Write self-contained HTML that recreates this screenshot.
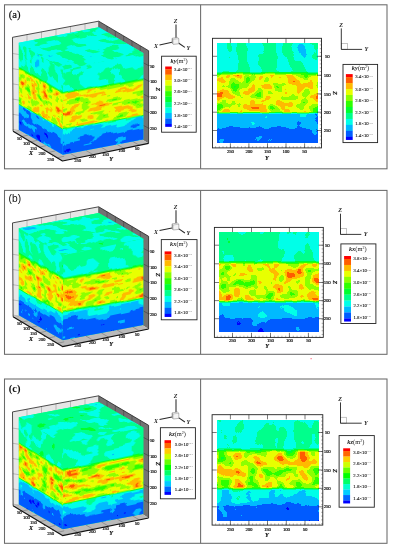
<!DOCTYPE html><html><head><meta charset="utf-8"><title>Permeability fields</title><style>html,body{margin:0;padding:0;background:#fff}svg{display:block}text{font-family:'Liberation Serif','DejaVu Serif',serif}</style></head><body><svg width="394" height="550" viewBox="0 0 394 550"><defs><linearGradient id="gTa" x1="0" y1="0" x2="0" y2="1"><stop offset="0" stop-color="rgb(82,18,69)"/><stop offset="1" stop-color="rgb(82,18,69)"/></linearGradient><linearGradient id="gLa" x1="0" y1="0" x2="0.028" y2="1"><stop offset="0" stop-color="rgb(81,18,69)"/><stop offset="0.28" stop-color="rgb(81,18,69)"/><stop offset="0.32" stop-color="rgb(180,143,31)"/><stop offset="0.69" stop-color="rgb(180,143,31)"/><stop offset="0.71" stop-color="rgb(55,31,38)"/><stop offset="0.78" stop-color="rgb(51,31,38)"/><stop offset="0.83" stop-color="rgb(34,51,26)"/><stop offset="1" stop-color="rgb(33,51,26)"/></linearGradient><linearGradient id="gRa" x1="0" y1="0" x2="-0.045" y2="1"><stop offset="0" stop-color="rgb(82,18,69)"/><stop offset="0.26" stop-color="rgb(82,18,69)"/><stop offset="0.29" stop-color="rgb(180,143,31)"/><stop offset="0.67" stop-color="rgb(180,143,31)"/><stop offset="0.69" stop-color="rgb(68,64,51)"/><stop offset="0.78" stop-color="rgb(53,64,51)"/><stop offset="0.85" stop-color="rgb(34,38,26)"/><stop offset="1" stop-color="rgb(32,38,26)"/></linearGradient><linearGradient id="gSa" x1="0" y1="0" x2="0" y2="1"><stop offset="0" stop-color="rgb(81,20,69)"/><stop offset="0.28" stop-color="rgb(81,20,69)"/><stop offset="0.32" stop-color="rgb(180,153,26)"/><stop offset="0.69" stop-color="rgb(180,153,26)"/><stop offset="0.71" stop-color="rgb(55,38,38)"/><stop offset="0.83" stop-color="rgb(51,38,38)"/><stop offset="0.87" stop-color="rgb(34,38,26)"/><stop offset="1" stop-color="rgb(32,38,26)"/></linearGradient><filter id="fTa" x="0" y="0" width="1" height="1" color-interpolation-filters="sRGB"><feTurbulence type="fractalNoise" baseFrequency="0.08 0.08" numOctaves="2" seed="5" result="n"/><feColorMatrix in="n" type="matrix" values="1 0 0 0 0 1 0 0 0 0 1 0 0 0 0 0 0 0 0 1" result="ng"/><feTurbulence type="fractalNoise" baseFrequency="0.05 0.05" numOctaves="2" seed="45" result="m"/><feColorMatrix in="m" type="matrix" values="1 0 0 0 0 1 0 0 0 0 1 0 0 0 0 0 0 0 0 1" result="mg"/><feColorMatrix in="SourceGraphic" type="matrix" values="1 0 0 0 0 1 0 0 0 0 1 0 0 0 0 0 0 0 0 1" result="base"/><feColorMatrix in="SourceGraphic" type="matrix" values="0 1 0 0 0 0 1 0 0 0 0 1 0 0 0 0 0 0 0 1" result="amp"/><feColorMatrix in="SourceGraphic" type="matrix" values="0 0 1 0 0 0 0 1 0 0 0 0 1 0 0 0 0 0 0 1" result="amp2"/><feComposite in="amp" in2="ng" operator="arithmetic" k1="1" k2="-0.5" k3="0" k4="0.5" result="t"/><feComposite in="amp2" in2="mg" operator="arithmetic" k1="1" k2="-0.5" k3="0" k4="0.5" result="t2"/><feComposite in="t" in2="t2" operator="arithmetic" k1="0" k2="1" k3="1" k4="-0.5" result="tt"/><feComposite in="base" in2="tt" operator="arithmetic" k1="0" k2="1" k3="1" k4="-0.5" result="v"/><feComponentTransfer in="v"><feFuncR type="discrete" tableValues="0 0 0 0 0 0 0.18 0.55 0.91 1 1 1"/><feFuncG type="discrete" tableValues="0 0.36 0.73 1 1 1 1 1 1 0.73 0.36 0"/><feFuncB type="discrete" tableValues="1 1 1 0.91 0.55 0.18 0 0 0 0 0 0"/></feComponentTransfer><feGaussianBlur stdDeviation="0.55"/></filter><filter id="fLa" x="0" y="0" width="1" height="1" color-interpolation-filters="sRGB"><feTurbulence type="fractalNoise" baseFrequency="0.075 0.13" numOctaves="2" seed="6" result="n"/><feColorMatrix in="n" type="matrix" values="1 0 0 0 0 1 0 0 0 0 1 0 0 0 0 0 0 0 0 1" result="ng"/><feTurbulence type="fractalNoise" baseFrequency="0.06 0.05" numOctaves="2" seed="46" result="m"/><feColorMatrix in="m" type="matrix" values="1 0 0 0 0 1 0 0 0 0 1 0 0 0 0 0 0 0 0 1" result="mg"/><feColorMatrix in="SourceGraphic" type="matrix" values="1 0 0 0 0 1 0 0 0 0 1 0 0 0 0 0 0 0 0 1" result="base"/><feColorMatrix in="SourceGraphic" type="matrix" values="0 1 0 0 0 0 1 0 0 0 0 1 0 0 0 0 0 0 0 1" result="amp"/><feColorMatrix in="SourceGraphic" type="matrix" values="0 0 1 0 0 0 0 1 0 0 0 0 1 0 0 0 0 0 0 1" result="amp2"/><feComposite in="amp" in2="ng" operator="arithmetic" k1="1" k2="-0.5" k3="0" k4="0.5" result="t"/><feComposite in="amp2" in2="mg" operator="arithmetic" k1="1" k2="-0.5" k3="0" k4="0.5" result="t2"/><feComposite in="t" in2="t2" operator="arithmetic" k1="0" k2="1" k3="1" k4="-0.5" result="tt"/><feComposite in="base" in2="tt" operator="arithmetic" k1="0" k2="1" k3="1" k4="-0.5" result="v"/><feComponentTransfer in="v"><feFuncR type="discrete" tableValues="0 0 0 0 0 0 0.18 0.55 0.91 1 1 1"/><feFuncG type="discrete" tableValues="0 0.36 0.73 1 1 1 1 1 1 0.73 0.36 0"/><feFuncB type="discrete" tableValues="1 1 1 0.91 0.55 0.18 0 0 0 0 0 0"/></feComponentTransfer><feGaussianBlur stdDeviation="0.55"/></filter><filter id="fRa" x="0" y="0" width="1" height="1" color-interpolation-filters="sRGB"><feTurbulence type="fractalNoise" baseFrequency="0.05 0.14" numOctaves="2" seed="7" result="n"/><feColorMatrix in="n" type="matrix" values="1 0 0 0 0 1 0 0 0 0 1 0 0 0 0 0 0 0 0 1" result="ng"/><feTurbulence type="fractalNoise" baseFrequency="0.045 0.06" numOctaves="2" seed="47" result="m"/><feColorMatrix in="m" type="matrix" values="1 0 0 0 0 1 0 0 0 0 1 0 0 0 0 0 0 0 0 1" result="mg"/><feColorMatrix in="SourceGraphic" type="matrix" values="1 0 0 0 0 1 0 0 0 0 1 0 0 0 0 0 0 0 0 1" result="base"/><feColorMatrix in="SourceGraphic" type="matrix" values="0 1 0 0 0 0 1 0 0 0 0 1 0 0 0 0 0 0 0 1" result="amp"/><feColorMatrix in="SourceGraphic" type="matrix" values="0 0 1 0 0 0 0 1 0 0 0 0 1 0 0 0 0 0 0 1" result="amp2"/><feComposite in="amp" in2="ng" operator="arithmetic" k1="1" k2="-0.5" k3="0" k4="0.5" result="t"/><feComposite in="amp2" in2="mg" operator="arithmetic" k1="1" k2="-0.5" k3="0" k4="0.5" result="t2"/><feComposite in="t" in2="t2" operator="arithmetic" k1="0" k2="1" k3="1" k4="-0.5" result="tt"/><feComposite in="base" in2="tt" operator="arithmetic" k1="0" k2="1" k3="1" k4="-0.5" result="v"/><feComponentTransfer in="v"><feFuncR type="discrete" tableValues="0 0 0 0 0 0 0.18 0.55 0.91 1 1 1"/><feFuncG type="discrete" tableValues="0 0.36 0.73 1 1 1 1 1 1 0.73 0.36 0"/><feFuncB type="discrete" tableValues="1 1 1 0.91 0.55 0.18 0 0 0 0 0 0"/></feComponentTransfer><feGaussianBlur stdDeviation="0.55"/></filter><filter id="fSa" x="0" y="0" width="1" height="1" color-interpolation-filters="sRGB"><feTurbulence type="fractalNoise" baseFrequency="0.075 0.085" numOctaves="2" seed="8" result="n"/><feColorMatrix in="n" type="matrix" values="1 0 0 0 0 1 0 0 0 0 1 0 0 0 0 0 0 0 0 1" result="ng"/><feTurbulence type="fractalNoise" baseFrequency="0.065 0.03" numOctaves="2" seed="48" result="m"/><feColorMatrix in="m" type="matrix" values="1 0 0 0 0 1 0 0 0 0 1 0 0 0 0 0 0 0 0 1" result="mg"/><feColorMatrix in="SourceGraphic" type="matrix" values="1 0 0 0 0 1 0 0 0 0 1 0 0 0 0 0 0 0 0 1" result="base"/><feColorMatrix in="SourceGraphic" type="matrix" values="0 1 0 0 0 0 1 0 0 0 0 1 0 0 0 0 0 0 0 1" result="amp"/><feColorMatrix in="SourceGraphic" type="matrix" values="0 0 1 0 0 0 0 1 0 0 0 0 1 0 0 0 0 0 0 1" result="amp2"/><feComposite in="amp" in2="ng" operator="arithmetic" k1="1" k2="-0.5" k3="0" k4="0.5" result="t"/><feComposite in="amp2" in2="mg" operator="arithmetic" k1="1" k2="-0.5" k3="0" k4="0.5" result="t2"/><feComposite in="t" in2="t2" operator="arithmetic" k1="0" k2="1" k3="1" k4="-0.5" result="tt"/><feComposite in="base" in2="tt" operator="arithmetic" k1="0" k2="1" k3="1" k4="-0.5" result="v"/><feComponentTransfer in="v"><feFuncR type="discrete" tableValues="0 0 0 0 0 0 0.18 0.55 0.91 1 1 1"/><feFuncG type="discrete" tableValues="0 0.36 0.73 1 1 1 1 1 1 0.73 0.36 0"/><feFuncB type="discrete" tableValues="1 1 1 0.91 0.55 0.18 0 0 0 0 0 0"/></feComponentTransfer><feGaussianBlur stdDeviation="0.55"/></filter><linearGradient id="gTb" x1="0" y1="0" x2="0" y2="1"><stop offset="0" stop-color="rgb(84,18,69)"/><stop offset="1" stop-color="rgb(84,18,69)"/></linearGradient><linearGradient id="gLb" x1="0" y1="0" x2="0.034" y2="1"><stop offset="0" stop-color="rgb(88,18,69)"/><stop offset="0.28" stop-color="rgb(88,18,69)"/><stop offset="0.33" stop-color="rgb(180,143,31)"/><stop offset="0.68" stop-color="rgb(180,143,31)"/><stop offset="0.7" stop-color="rgb(79,38,38)"/><stop offset="0.77" stop-color="rgb(59,38,38)"/><stop offset="0.83" stop-color="rgb(36,38,26)"/><stop offset="1" stop-color="rgb(31,51,26)"/></linearGradient><linearGradient id="gRb" x1="0" y1="0" x2="-0.048" y2="1"><stop offset="0" stop-color="rgb(84,18,69)"/><stop offset="0.26" stop-color="rgb(84,18,69)"/><stop offset="0.3" stop-color="rgb(180,143,31)"/><stop offset="0.63" stop-color="rgb(180,143,31)"/><stop offset="0.66" stop-color="rgb(74,51,51)"/><stop offset="0.74" stop-color="rgb(57,51,51)"/><stop offset="0.79" stop-color="rgb(34,38,26)"/><stop offset="1" stop-color="rgb(31,51,26)"/></linearGradient><linearGradient id="gSb" x1="0" y1="0" x2="0" y2="1"><stop offset="0" stop-color="rgb(85,20,69)"/><stop offset="0.28" stop-color="rgb(85,20,69)"/><stop offset="0.32" stop-color="rgb(180,153,26)"/><stop offset="0.68" stop-color="rgb(180,153,26)"/><stop offset="0.71" stop-color="rgb(55,38,38)"/><stop offset="0.85" stop-color="rgb(51,38,38)"/><stop offset="0.89" stop-color="rgb(32,51,26)"/><stop offset="1" stop-color="rgb(28,51,26)"/></linearGradient><filter id="fTb" x="0" y="0" width="1" height="1" color-interpolation-filters="sRGB"><feTurbulence type="fractalNoise" baseFrequency="0.08 0.08" numOctaves="2" seed="11" result="n"/><feColorMatrix in="n" type="matrix" values="1 0 0 0 0 1 0 0 0 0 1 0 0 0 0 0 0 0 0 1" result="ng"/><feTurbulence type="fractalNoise" baseFrequency="0.05 0.05" numOctaves="2" seed="51" result="m"/><feColorMatrix in="m" type="matrix" values="1 0 0 0 0 1 0 0 0 0 1 0 0 0 0 0 0 0 0 1" result="mg"/><feColorMatrix in="SourceGraphic" type="matrix" values="1 0 0 0 0 1 0 0 0 0 1 0 0 0 0 0 0 0 0 1" result="base"/><feColorMatrix in="SourceGraphic" type="matrix" values="0 1 0 0 0 0 1 0 0 0 0 1 0 0 0 0 0 0 0 1" result="amp"/><feColorMatrix in="SourceGraphic" type="matrix" values="0 0 1 0 0 0 0 1 0 0 0 0 1 0 0 0 0 0 0 1" result="amp2"/><feComposite in="amp" in2="ng" operator="arithmetic" k1="1" k2="-0.5" k3="0" k4="0.5" result="t"/><feComposite in="amp2" in2="mg" operator="arithmetic" k1="1" k2="-0.5" k3="0" k4="0.5" result="t2"/><feComposite in="t" in2="t2" operator="arithmetic" k1="0" k2="1" k3="1" k4="-0.5" result="tt"/><feComposite in="base" in2="tt" operator="arithmetic" k1="0" k2="1" k3="1" k4="-0.5" result="v"/><feComponentTransfer in="v"><feFuncR type="discrete" tableValues="0 0 0 0 0 0 0.18 0.55 0.91 1 1 1"/><feFuncG type="discrete" tableValues="0 0.36 0.73 1 1 1 1 1 1 0.73 0.36 0"/><feFuncB type="discrete" tableValues="1 1 1 0.91 0.55 0.18 0 0 0 0 0 0"/></feComponentTransfer><feGaussianBlur stdDeviation="0.55"/></filter><filter id="fLb" x="0" y="0" width="1" height="1" color-interpolation-filters="sRGB"><feTurbulence type="fractalNoise" baseFrequency="0.075 0.13" numOctaves="2" seed="12" result="n"/><feColorMatrix in="n" type="matrix" values="1 0 0 0 0 1 0 0 0 0 1 0 0 0 0 0 0 0 0 1" result="ng"/><feTurbulence type="fractalNoise" baseFrequency="0.06 0.05" numOctaves="2" seed="52" result="m"/><feColorMatrix in="m" type="matrix" values="1 0 0 0 0 1 0 0 0 0 1 0 0 0 0 0 0 0 0 1" result="mg"/><feColorMatrix in="SourceGraphic" type="matrix" values="1 0 0 0 0 1 0 0 0 0 1 0 0 0 0 0 0 0 0 1" result="base"/><feColorMatrix in="SourceGraphic" type="matrix" values="0 1 0 0 0 0 1 0 0 0 0 1 0 0 0 0 0 0 0 1" result="amp"/><feColorMatrix in="SourceGraphic" type="matrix" values="0 0 1 0 0 0 0 1 0 0 0 0 1 0 0 0 0 0 0 1" result="amp2"/><feComposite in="amp" in2="ng" operator="arithmetic" k1="1" k2="-0.5" k3="0" k4="0.5" result="t"/><feComposite in="amp2" in2="mg" operator="arithmetic" k1="1" k2="-0.5" k3="0" k4="0.5" result="t2"/><feComposite in="t" in2="t2" operator="arithmetic" k1="0" k2="1" k3="1" k4="-0.5" result="tt"/><feComposite in="base" in2="tt" operator="arithmetic" k1="0" k2="1" k3="1" k4="-0.5" result="v"/><feComponentTransfer in="v"><feFuncR type="discrete" tableValues="0 0 0 0 0 0 0.18 0.55 0.91 1 1 1"/><feFuncG type="discrete" tableValues="0 0.36 0.73 1 1 1 1 1 1 0.73 0.36 0"/><feFuncB type="discrete" tableValues="1 1 1 0.91 0.55 0.18 0 0 0 0 0 0"/></feComponentTransfer><feGaussianBlur stdDeviation="0.55"/></filter><filter id="fRb" x="0" y="0" width="1" height="1" color-interpolation-filters="sRGB"><feTurbulence type="fractalNoise" baseFrequency="0.05 0.14" numOctaves="2" seed="13" result="n"/><feColorMatrix in="n" type="matrix" values="1 0 0 0 0 1 0 0 0 0 1 0 0 0 0 0 0 0 0 1" result="ng"/><feTurbulence type="fractalNoise" baseFrequency="0.045 0.06" numOctaves="2" seed="53" result="m"/><feColorMatrix in="m" type="matrix" values="1 0 0 0 0 1 0 0 0 0 1 0 0 0 0 0 0 0 0 1" result="mg"/><feColorMatrix in="SourceGraphic" type="matrix" values="1 0 0 0 0 1 0 0 0 0 1 0 0 0 0 0 0 0 0 1" result="base"/><feColorMatrix in="SourceGraphic" type="matrix" values="0 1 0 0 0 0 1 0 0 0 0 1 0 0 0 0 0 0 0 1" result="amp"/><feColorMatrix in="SourceGraphic" type="matrix" values="0 0 1 0 0 0 0 1 0 0 0 0 1 0 0 0 0 0 0 1" result="amp2"/><feComposite in="amp" in2="ng" operator="arithmetic" k1="1" k2="-0.5" k3="0" k4="0.5" result="t"/><feComposite in="amp2" in2="mg" operator="arithmetic" k1="1" k2="-0.5" k3="0" k4="0.5" result="t2"/><feComposite in="t" in2="t2" operator="arithmetic" k1="0" k2="1" k3="1" k4="-0.5" result="tt"/><feComposite in="base" in2="tt" operator="arithmetic" k1="0" k2="1" k3="1" k4="-0.5" result="v"/><feComponentTransfer in="v"><feFuncR type="discrete" tableValues="0 0 0 0 0 0 0.18 0.55 0.91 1 1 1"/><feFuncG type="discrete" tableValues="0 0.36 0.73 1 1 1 1 1 1 0.73 0.36 0"/><feFuncB type="discrete" tableValues="1 1 1 0.91 0.55 0.18 0 0 0 0 0 0"/></feComponentTransfer><feGaussianBlur stdDeviation="0.55"/></filter><filter id="fSb" x="0" y="0" width="1" height="1" color-interpolation-filters="sRGB"><feTurbulence type="fractalNoise" baseFrequency="0.075 0.085" numOctaves="2" seed="14" result="n"/><feColorMatrix in="n" type="matrix" values="1 0 0 0 0 1 0 0 0 0 1 0 0 0 0 0 0 0 0 1" result="ng"/><feTurbulence type="fractalNoise" baseFrequency="0.065 0.03" numOctaves="2" seed="54" result="m"/><feColorMatrix in="m" type="matrix" values="1 0 0 0 0 1 0 0 0 0 1 0 0 0 0 0 0 0 0 1" result="mg"/><feColorMatrix in="SourceGraphic" type="matrix" values="1 0 0 0 0 1 0 0 0 0 1 0 0 0 0 0 0 0 0 1" result="base"/><feColorMatrix in="SourceGraphic" type="matrix" values="0 1 0 0 0 0 1 0 0 0 0 1 0 0 0 0 0 0 0 1" result="amp"/><feColorMatrix in="SourceGraphic" type="matrix" values="0 0 1 0 0 0 0 1 0 0 0 0 1 0 0 0 0 0 0 1" result="amp2"/><feComposite in="amp" in2="ng" operator="arithmetic" k1="1" k2="-0.5" k3="0" k4="0.5" result="t"/><feComposite in="amp2" in2="mg" operator="arithmetic" k1="1" k2="-0.5" k3="0" k4="0.5" result="t2"/><feComposite in="t" in2="t2" operator="arithmetic" k1="0" k2="1" k3="1" k4="-0.5" result="tt"/><feComposite in="base" in2="tt" operator="arithmetic" k1="0" k2="1" k3="1" k4="-0.5" result="v"/><feComponentTransfer in="v"><feFuncR type="discrete" tableValues="0 0 0 0 0 0 0.18 0.55 0.91 1 1 1"/><feFuncG type="discrete" tableValues="0 0.36 0.73 1 1 1 1 1 1 0.73 0.36 0"/><feFuncB type="discrete" tableValues="1 1 1 0.91 0.55 0.18 0 0 0 0 0 0"/></feComponentTransfer><feGaussianBlur stdDeviation="0.55"/></filter><linearGradient id="gTc" x1="0" y1="0" x2="0" y2="1"><stop offset="0" stop-color="rgb(89,18,69)"/><stop offset="1" stop-color="rgb(89,18,69)"/></linearGradient><linearGradient id="gLc" x1="0" y1="0" x2="0" y2="1"><stop offset="0" stop-color="rgb(89,18,69)"/><stop offset="0.29" stop-color="rgb(89,18,69)"/><stop offset="0.32" stop-color="rgb(175,143,31)"/><stop offset="0.68" stop-color="rgb(175,143,31)"/><stop offset="0.7" stop-color="rgb(70,38,38)"/><stop offset="0.73" stop-color="rgb(57,38,38)"/><stop offset="0.79" stop-color="rgb(51,38,38)"/><stop offset="0.82" stop-color="rgb(32,51,26)"/><stop offset="1" stop-color="rgb(30,51,26)"/></linearGradient><linearGradient id="gRc" x1="0" y1="0" x2="-0.012" y2="1"><stop offset="0" stop-color="rgb(83,18,69)"/><stop offset="0.29" stop-color="rgb(83,18,69)"/><stop offset="0.33" stop-color="rgb(175,143,31)"/><stop offset="0.68" stop-color="rgb(175,143,31)"/><stop offset="0.7" stop-color="rgb(74,51,51)"/><stop offset="0.8" stop-color="rgb(64,51,51)"/><stop offset="0.86" stop-color="rgb(36,38,26)"/><stop offset="1" stop-color="rgb(32,38,26)"/></linearGradient><linearGradient id="gSc" x1="0" y1="0" x2="0" y2="1"><stop offset="0" stop-color="rgb(78,20,69)"/><stop offset="0.28" stop-color="rgb(78,20,69)"/><stop offset="0.32" stop-color="rgb(175,153,26)"/><stop offset="0.67" stop-color="rgb(175,153,26)"/><stop offset="0.7" stop-color="rgb(72,51,51)"/><stop offset="0.82" stop-color="rgb(62,51,51)"/><stop offset="0.86" stop-color="rgb(36,38,26)"/><stop offset="1" stop-color="rgb(32,38,26)"/></linearGradient><filter id="fTc" x="0" y="0" width="1" height="1" color-interpolation-filters="sRGB"><feTurbulence type="fractalNoise" baseFrequency="0.08 0.08" numOctaves="2" seed="23" result="n"/><feColorMatrix in="n" type="matrix" values="1 0 0 0 0 1 0 0 0 0 1 0 0 0 0 0 0 0 0 1" result="ng"/><feTurbulence type="fractalNoise" baseFrequency="0.05 0.05" numOctaves="2" seed="63" result="m"/><feColorMatrix in="m" type="matrix" values="1 0 0 0 0 1 0 0 0 0 1 0 0 0 0 0 0 0 0 1" result="mg"/><feColorMatrix in="SourceGraphic" type="matrix" values="1 0 0 0 0 1 0 0 0 0 1 0 0 0 0 0 0 0 0 1" result="base"/><feColorMatrix in="SourceGraphic" type="matrix" values="0 1 0 0 0 0 1 0 0 0 0 1 0 0 0 0 0 0 0 1" result="amp"/><feColorMatrix in="SourceGraphic" type="matrix" values="0 0 1 0 0 0 0 1 0 0 0 0 1 0 0 0 0 0 0 1" result="amp2"/><feComposite in="amp" in2="ng" operator="arithmetic" k1="1" k2="-0.5" k3="0" k4="0.5" result="t"/><feComposite in="amp2" in2="mg" operator="arithmetic" k1="1" k2="-0.5" k3="0" k4="0.5" result="t2"/><feComposite in="t" in2="t2" operator="arithmetic" k1="0" k2="1" k3="1" k4="-0.5" result="tt"/><feComposite in="base" in2="tt" operator="arithmetic" k1="0" k2="1" k3="1" k4="-0.5" result="v"/><feComponentTransfer in="v"><feFuncR type="discrete" tableValues="0 0 0 0 0 0 0.18 0.55 0.91 1 1 1"/><feFuncG type="discrete" tableValues="0 0.36 0.73 1 1 1 1 1 1 0.73 0.36 0"/><feFuncB type="discrete" tableValues="1 1 1 0.91 0.55 0.18 0 0 0 0 0 0"/></feComponentTransfer><feGaussianBlur stdDeviation="0.55"/></filter><filter id="fLc" x="0" y="0" width="1" height="1" color-interpolation-filters="sRGB"><feTurbulence type="fractalNoise" baseFrequency="0.075 0.13" numOctaves="2" seed="24" result="n"/><feColorMatrix in="n" type="matrix" values="1 0 0 0 0 1 0 0 0 0 1 0 0 0 0 0 0 0 0 1" result="ng"/><feTurbulence type="fractalNoise" baseFrequency="0.06 0.05" numOctaves="2" seed="64" result="m"/><feColorMatrix in="m" type="matrix" values="1 0 0 0 0 1 0 0 0 0 1 0 0 0 0 0 0 0 0 1" result="mg"/><feColorMatrix in="SourceGraphic" type="matrix" values="1 0 0 0 0 1 0 0 0 0 1 0 0 0 0 0 0 0 0 1" result="base"/><feColorMatrix in="SourceGraphic" type="matrix" values="0 1 0 0 0 0 1 0 0 0 0 1 0 0 0 0 0 0 0 1" result="amp"/><feColorMatrix in="SourceGraphic" type="matrix" values="0 0 1 0 0 0 0 1 0 0 0 0 1 0 0 0 0 0 0 1" result="amp2"/><feComposite in="amp" in2="ng" operator="arithmetic" k1="1" k2="-0.5" k3="0" k4="0.5" result="t"/><feComposite in="amp2" in2="mg" operator="arithmetic" k1="1" k2="-0.5" k3="0" k4="0.5" result="t2"/><feComposite in="t" in2="t2" operator="arithmetic" k1="0" k2="1" k3="1" k4="-0.5" result="tt"/><feComposite in="base" in2="tt" operator="arithmetic" k1="0" k2="1" k3="1" k4="-0.5" result="v"/><feComponentTransfer in="v"><feFuncR type="discrete" tableValues="0 0 0 0 0 0 0.18 0.55 0.91 1 1 1"/><feFuncG type="discrete" tableValues="0 0.36 0.73 1 1 1 1 1 1 0.73 0.36 0"/><feFuncB type="discrete" tableValues="1 1 1 0.91 0.55 0.18 0 0 0 0 0 0"/></feComponentTransfer><feGaussianBlur stdDeviation="0.55"/></filter><filter id="fRc" x="0" y="0" width="1" height="1" color-interpolation-filters="sRGB"><feTurbulence type="fractalNoise" baseFrequency="0.05 0.14" numOctaves="2" seed="25" result="n"/><feColorMatrix in="n" type="matrix" values="1 0 0 0 0 1 0 0 0 0 1 0 0 0 0 0 0 0 0 1" result="ng"/><feTurbulence type="fractalNoise" baseFrequency="0.045 0.06" numOctaves="2" seed="65" result="m"/><feColorMatrix in="m" type="matrix" values="1 0 0 0 0 1 0 0 0 0 1 0 0 0 0 0 0 0 0 1" result="mg"/><feColorMatrix in="SourceGraphic" type="matrix" values="1 0 0 0 0 1 0 0 0 0 1 0 0 0 0 0 0 0 0 1" result="base"/><feColorMatrix in="SourceGraphic" type="matrix" values="0 1 0 0 0 0 1 0 0 0 0 1 0 0 0 0 0 0 0 1" result="amp"/><feColorMatrix in="SourceGraphic" type="matrix" values="0 0 1 0 0 0 0 1 0 0 0 0 1 0 0 0 0 0 0 1" result="amp2"/><feComposite in="amp" in2="ng" operator="arithmetic" k1="1" k2="-0.5" k3="0" k4="0.5" result="t"/><feComposite in="amp2" in2="mg" operator="arithmetic" k1="1" k2="-0.5" k3="0" k4="0.5" result="t2"/><feComposite in="t" in2="t2" operator="arithmetic" k1="0" k2="1" k3="1" k4="-0.5" result="tt"/><feComposite in="base" in2="tt" operator="arithmetic" k1="0" k2="1" k3="1" k4="-0.5" result="v"/><feComponentTransfer in="v"><feFuncR type="discrete" tableValues="0 0 0 0 0 0 0.18 0.55 0.91 1 1 1"/><feFuncG type="discrete" tableValues="0 0.36 0.73 1 1 1 1 1 1 0.73 0.36 0"/><feFuncB type="discrete" tableValues="1 1 1 0.91 0.55 0.18 0 0 0 0 0 0"/></feComponentTransfer><feGaussianBlur stdDeviation="0.55"/></filter><filter id="fSc" x="0" y="0" width="1" height="1" color-interpolation-filters="sRGB"><feTurbulence type="fractalNoise" baseFrequency="0.075 0.085" numOctaves="2" seed="26" result="n"/><feColorMatrix in="n" type="matrix" values="1 0 0 0 0 1 0 0 0 0 1 0 0 0 0 0 0 0 0 1" result="ng"/><feTurbulence type="fractalNoise" baseFrequency="0.065 0.03" numOctaves="2" seed="66" result="m"/><feColorMatrix in="m" type="matrix" values="1 0 0 0 0 1 0 0 0 0 1 0 0 0 0 0 0 0 0 1" result="mg"/><feColorMatrix in="SourceGraphic" type="matrix" values="1 0 0 0 0 1 0 0 0 0 1 0 0 0 0 0 0 0 0 1" result="base"/><feColorMatrix in="SourceGraphic" type="matrix" values="0 1 0 0 0 0 1 0 0 0 0 1 0 0 0 0 0 0 0 1" result="amp"/><feColorMatrix in="SourceGraphic" type="matrix" values="0 0 1 0 0 0 0 1 0 0 0 0 1 0 0 0 0 0 0 1" result="amp2"/><feComposite in="amp" in2="ng" operator="arithmetic" k1="1" k2="-0.5" k3="0" k4="0.5" result="t"/><feComposite in="amp2" in2="mg" operator="arithmetic" k1="1" k2="-0.5" k3="0" k4="0.5" result="t2"/><feComposite in="t" in2="t2" operator="arithmetic" k1="0" k2="1" k3="1" k4="-0.5" result="tt"/><feComposite in="base" in2="tt" operator="arithmetic" k1="0" k2="1" k3="1" k4="-0.5" result="v"/><feComponentTransfer in="v"><feFuncR type="discrete" tableValues="0 0 0 0 0 0 0.18 0.55 0.91 1 1 1"/><feFuncG type="discrete" tableValues="0 0.36 0.73 1 1 1 1 1 1 0.73 0.36 0"/><feFuncB type="discrete" tableValues="1 1 1 0.91 0.55 0.18 0 0 0 0 0 0"/></feComponentTransfer><feGaussianBlur stdDeviation="0.55"/></filter></defs><rect width="394" height="550" fill="#fff"/><rect x="4.5" y="4.8" width="382.5" height="164" fill="none" stroke="#6a6a6a" stroke-width="1.05"/><line x1="200.6" y1="4.8" x2="200.6" y2="168.8" stroke="#6a6a6a" stroke-width="1.05"/><rect x="4.5" y="190.4" width="382.5" height="163.9" fill="none" stroke="#6a6a6a" stroke-width="1.05"/><line x1="200.6" y1="190.4" x2="200.6" y2="354.3" stroke="#6a6a6a" stroke-width="1.05"/><rect x="4.5" y="379" width="382.5" height="164.3" fill="none" stroke="#6a6a6a" stroke-width="1.05"/><line x1="200.6" y1="379" x2="200.6" y2="543.3" stroke="#6a6a6a" stroke-width="1.05"/><text x="8.7" y="17.9" font-size="10.6" fill="#111" stroke="#111" stroke-width="0.2">(a)</text><text x="8.6" y="201.6" font-size="10.2" fill="#111" style="font-family:'Liberation Sans','DejaVu Sans',sans-serif">(b)</text><text x="8.7" y="391.7" font-size="10.6" fill="#111" font-weight="bold">(c)</text><g transform="translate(0,0)"><polygon points="12.5,37.3 98.7,21.2 98.7,110 13.1,131.2" fill="#e6e6e6"/><polygon points="98.7,21.2 148.6,50.7 148.6,143.4 98.7,112" fill="#737373"/><polygon points="13.1,131.2 62.5,161 148.6,143.4 98.7,112" fill="#bababa"/><line x1="27" y1="34.59" x2="27" y2="42.59" stroke="#888" stroke-width="0.5"/><line x1="41.5" y1="31.88" x2="41.5" y2="39.88" stroke="#888" stroke-width="0.5"/><line x1="56" y1="29.18" x2="56" y2="37.18" stroke="#888" stroke-width="0.5"/><line x1="70.5" y1="26.47" x2="70.5" y2="34.47" stroke="#888" stroke-width="0.5"/><line x1="85" y1="23.76" x2="85" y2="31.76" stroke="#888" stroke-width="0.5"/><line x1="12.8" y1="53.5" x2="19" y2="54.5" stroke="#888" stroke-width="0.5"/><line x1="12.8" y1="68.7" x2="19" y2="69.7" stroke="#888" stroke-width="0.5"/><line x1="12.8" y1="83.9" x2="19" y2="84.9" stroke="#888" stroke-width="0.5"/><line x1="12.8" y1="99.1" x2="19" y2="100.1" stroke="#888" stroke-width="0.5"/><line x1="12.8" y1="114.3" x2="19" y2="115.3" stroke="#888" stroke-width="0.5"/><line x1="12.8" y1="129.5" x2="19" y2="130.5" stroke="#888" stroke-width="0.5"/><line x1="107.02" y1="26.12" x2="107.02" y2="34.12" stroke="#3a3a3a" stroke-width="0.5"/><line x1="115.33" y1="31.03" x2="115.33" y2="39.03" stroke="#3a3a3a" stroke-width="0.5"/><line x1="123.65" y1="35.95" x2="123.65" y2="43.95" stroke="#3a3a3a" stroke-width="0.5"/><line x1="131.97" y1="40.87" x2="131.97" y2="48.87" stroke="#3a3a3a" stroke-width="0.5"/><line x1="140.28" y1="45.78" x2="140.28" y2="53.78" stroke="#3a3a3a" stroke-width="0.5"/><line x1="143.2" y1="62.7" x2="148.6" y2="65.6" stroke="#333" stroke-width="0.5"/><line x1="143.2" y1="78.3" x2="148.6" y2="81.2" stroke="#333" stroke-width="0.5"/><line x1="143.2" y1="94" x2="148.6" y2="96.9" stroke="#333" stroke-width="0.5"/><line x1="143.2" y1="109.5" x2="148.6" y2="112.4" stroke="#333" stroke-width="0.5"/><line x1="143.2" y1="125.3" x2="148.6" y2="128.2" stroke="#333" stroke-width="0.5"/><line x1="21.92" y1="136.52" x2="28.92" y2="134.92" stroke="#666" stroke-width="0.5"/><line x1="30.74" y1="141.84" x2="37.74" y2="140.24" stroke="#666" stroke-width="0.5"/><line x1="39.56" y1="147.16" x2="46.56" y2="145.56" stroke="#666" stroke-width="0.5"/><line x1="48.39" y1="152.49" x2="55.39" y2="150.89" stroke="#666" stroke-width="0.5"/><line x1="57.21" y1="157.81" x2="64.21" y2="156.21" stroke="#666" stroke-width="0.5"/><line x1="77.88" y1="157.86" x2="70.47" y2="153.56" stroke="#666" stroke-width="0.5"/><line x1="93.25" y1="154.71" x2="85.85" y2="150.41" stroke="#666" stroke-width="0.5"/><line x1="108.62" y1="151.57" x2="101.22" y2="147.27" stroke="#666" stroke-width="0.5"/><line x1="124" y1="148.43" x2="116.6" y2="144.13" stroke="#666" stroke-width="0.5"/><line x1="139.38" y1="145.29" x2="131.97" y2="140.99" stroke="#666" stroke-width="0.5"/><polygon points="18.8,42.7 98.7,27.3 143.3,53 143.3,139.4 62.8,154.7 18.8,129.7" fill="#00ffe8"/><clipPath id="cagTa"><polygon points="18.8,42.7 98.7,27.3 143.3,53 63.2,70"/></clipPath><g clip-path="url(#cagTa)"><g transform="matrix(0.8 -0.15 0.44 0.27 18.8 42.7)"><rect x="-2" y="-2" width="104" height="104" fill="url(#gTa)" filter="url(#fTa)"/></g></g><clipPath id="cagLa"><polygon points="18.8,42.7 63.2,70 62.8,154.7 18.8,129.7"/></clipPath><g clip-path="url(#cagLa)"><g transform="matrix(0.44 0.27 0 0.87 18.8 42.7)"><rect x="-2" y="-2" width="104" height="104" fill="url(#gLa)" filter="url(#fLa)"/></g></g><clipPath id="cagRa"><polygon points="63.2,70 143.3,53 143.3,139.4 62.8,154.7"/></clipPath><g clip-path="url(#cagRa)"><g transform="matrix(0.8 -0.17 -0 0.85 63.2 70)"><rect x="-2" y="-2" width="104" height="104" fill="url(#gRa)" filter="url(#fRa)"/></g></g><polyline points="13.1,131.2 12.5,37.3 98.7,21.2 148.6,50.7 148.6,143.4" fill="none" stroke="#222" stroke-width="0.8"/><polyline points="148.6,143.4 62.5,161 13.1,131.2" fill="none" stroke="#111" stroke-width="1.15" stroke-linejoin="round"/><line x1="98.7" y1="21.2" x2="98.7" y2="27.3" stroke="#333" stroke-width="0.6"/><g fill="#111" stroke="#111" stroke-width="0.17" letter-spacing="-0.18"><text x="19.2" y="139.6" font-size="4.9" text-anchor="middle" >50</text><text x="26.3" y="144.7" font-size="4.9" text-anchor="middle" >100</text><text x="33.4" y="149.8" font-size="4.9" text-anchor="middle" >150</text><text x="42" y="155.1" font-size="4.9" text-anchor="middle" >200</text><text x="50.7" y="160.5" font-size="4.9" text-anchor="middle" >250</text><text x="31" y="155" font-size="6" text-anchor="middle" font-style="italic" font-weight="bold">X</text><text x="77.7" y="161.5" font-size="4.9" text-anchor="middle" >250</text><text x="92.2" y="158.1" font-size="4.9" text-anchor="middle" >200</text><text x="105.4" y="155.5" font-size="4.9" text-anchor="middle" >150</text><text x="121.6" y="152.4" font-size="4.9" text-anchor="middle" >100</text><text x="136.9" y="150" font-size="4.9" text-anchor="middle" >50</text><text x="110.9" y="160.8" font-size="6" text-anchor="middle" font-style="italic" font-weight="bold">Y</text><text x="149.9" y="67.5" font-size="4.8" text-anchor="start" >50</text><text x="149.9" y="83.1" font-size="4.8" text-anchor="start" >100</text><text x="149.9" y="98.8" font-size="4.8" text-anchor="start" >150</text><text x="149.9" y="114.3" font-size="4.8" text-anchor="start" >200</text><text x="149.9" y="130.1" font-size="4.8" text-anchor="start" >250</text><text transform="translate(155.9,89.2) rotate(90)" font-size="6" text-anchor="middle" font-style="italic" font-weight="bold">Z</text></g><line x1="148.6" y1="65.7" x2="149.8" y2="65.5" stroke="#222" stroke-width="0.5"/><line x1="148.6" y1="81.3" x2="149.8" y2="81.1" stroke="#222" stroke-width="0.5"/><line x1="148.6" y1="97" x2="149.8" y2="96.8" stroke="#222" stroke-width="0.5"/><line x1="148.6" y1="112.5" x2="149.8" y2="112.3" stroke="#222" stroke-width="0.5"/><line x1="148.6" y1="128.3" x2="149.8" y2="128.1" stroke="#222" stroke-width="0.5"/><line x1="21.5" y1="136.3" x2="20.3" y2="137.3" stroke="#222" stroke-width="0.5"/><line x1="29" y1="140.8" x2="27.8" y2="141.8" stroke="#222" stroke-width="0.5"/><line x1="37" y1="145.5" x2="35.8" y2="146.5" stroke="#222" stroke-width="0.5"/><line x1="45" y1="150.4" x2="43.8" y2="151.4" stroke="#222" stroke-width="0.5"/><line x1="53.5" y1="155.4" x2="52.3" y2="156.4" stroke="#222" stroke-width="0.5"/><g stroke="#2a2a2a" stroke-width="1.05" fill="none"><line x1="176" y1="24.6" x2="176" y2="38"/><line x1="159.5" y1="44.9" x2="172" y2="42.3"/><line x1="178.5" y1="43" x2="184.9" y2="47.4"/></g><polygon points="172,38.3 177.5,37.4 178.8,38.6 178.8,43.8 173.3,44.4 172,43.1" fill="#f4f4f4" stroke="#777" stroke-width="0.5"/><polyline points="172,38.3 173.3,39.4 178.8,38.6" fill="none" stroke="#888" stroke-width="0.4"/><polygon points="172,38.3 173.3,39.4 173.3,44.4 172,43.1" fill="#999"/><g fill="#222" font-style="italic" font-weight="bold"><text x="175.6" y="23.4" font-size="6" text-anchor="middle" >Z</text><text x="155.9" y="48.3" font-size="6" text-anchor="middle" >X</text><text x="188.3" y="49.8" font-size="6" text-anchor="middle" >Y</text></g></g><g transform="translate(0,185.6)"><polygon points="12.5,37.3 98.7,21.2 98.7,110 13.1,131.2" fill="#e6e6e6"/><polygon points="98.7,21.2 148.6,50.7 148.6,143.4 98.7,112" fill="#737373"/><polygon points="13.1,131.2 62.5,161 148.6,143.4 98.7,112" fill="#bababa"/><line x1="27" y1="34.59" x2="27" y2="42.59" stroke="#888" stroke-width="0.5"/><line x1="41.5" y1="31.88" x2="41.5" y2="39.88" stroke="#888" stroke-width="0.5"/><line x1="56" y1="29.18" x2="56" y2="37.18" stroke="#888" stroke-width="0.5"/><line x1="70.5" y1="26.47" x2="70.5" y2="34.47" stroke="#888" stroke-width="0.5"/><line x1="85" y1="23.76" x2="85" y2="31.76" stroke="#888" stroke-width="0.5"/><line x1="12.8" y1="53.5" x2="19" y2="54.5" stroke="#888" stroke-width="0.5"/><line x1="12.8" y1="68.7" x2="19" y2="69.7" stroke="#888" stroke-width="0.5"/><line x1="12.8" y1="83.9" x2="19" y2="84.9" stroke="#888" stroke-width="0.5"/><line x1="12.8" y1="99.1" x2="19" y2="100.1" stroke="#888" stroke-width="0.5"/><line x1="12.8" y1="114.3" x2="19" y2="115.3" stroke="#888" stroke-width="0.5"/><line x1="12.8" y1="129.5" x2="19" y2="130.5" stroke="#888" stroke-width="0.5"/><line x1="107.02" y1="26.12" x2="107.02" y2="34.12" stroke="#3a3a3a" stroke-width="0.5"/><line x1="115.33" y1="31.03" x2="115.33" y2="39.03" stroke="#3a3a3a" stroke-width="0.5"/><line x1="123.65" y1="35.95" x2="123.65" y2="43.95" stroke="#3a3a3a" stroke-width="0.5"/><line x1="131.97" y1="40.87" x2="131.97" y2="48.87" stroke="#3a3a3a" stroke-width="0.5"/><line x1="140.28" y1="45.78" x2="140.28" y2="53.78" stroke="#3a3a3a" stroke-width="0.5"/><line x1="143.2" y1="62.7" x2="148.6" y2="65.6" stroke="#333" stroke-width="0.5"/><line x1="143.2" y1="78.3" x2="148.6" y2="81.2" stroke="#333" stroke-width="0.5"/><line x1="143.2" y1="94" x2="148.6" y2="96.9" stroke="#333" stroke-width="0.5"/><line x1="143.2" y1="109.5" x2="148.6" y2="112.4" stroke="#333" stroke-width="0.5"/><line x1="143.2" y1="125.3" x2="148.6" y2="128.2" stroke="#333" stroke-width="0.5"/><line x1="21.92" y1="136.52" x2="28.92" y2="134.92" stroke="#666" stroke-width="0.5"/><line x1="30.74" y1="141.84" x2="37.74" y2="140.24" stroke="#666" stroke-width="0.5"/><line x1="39.56" y1="147.16" x2="46.56" y2="145.56" stroke="#666" stroke-width="0.5"/><line x1="48.39" y1="152.49" x2="55.39" y2="150.89" stroke="#666" stroke-width="0.5"/><line x1="57.21" y1="157.81" x2="64.21" y2="156.21" stroke="#666" stroke-width="0.5"/><line x1="77.88" y1="157.86" x2="70.47" y2="153.56" stroke="#666" stroke-width="0.5"/><line x1="93.25" y1="154.71" x2="85.85" y2="150.41" stroke="#666" stroke-width="0.5"/><line x1="108.62" y1="151.57" x2="101.22" y2="147.27" stroke="#666" stroke-width="0.5"/><line x1="124" y1="148.43" x2="116.6" y2="144.13" stroke="#666" stroke-width="0.5"/><line x1="139.38" y1="145.29" x2="131.97" y2="140.99" stroke="#666" stroke-width="0.5"/><polygon points="18.8,42.7 98.7,27.3 143.3,53 143.3,139.4 62.8,154.7 18.8,129.7" fill="#00ff8b"/><clipPath id="cbgTb"><polygon points="18.8,42.7 98.7,27.3 143.3,53 63.2,70"/></clipPath><g clip-path="url(#cbgTb)"><g transform="matrix(0.8 -0.15 0.44 0.27 18.8 42.7)"><rect x="-2" y="-2" width="104" height="104" fill="url(#gTb)" filter="url(#fTb)"/></g></g><clipPath id="cbgLb"><polygon points="18.8,42.7 63.2,70 62.8,154.7 18.8,129.7"/></clipPath><g clip-path="url(#cbgLb)"><g transform="matrix(0.44 0.27 0 0.87 18.8 42.7)"><rect x="-2" y="-2" width="104" height="104" fill="url(#gLb)" filter="url(#fLb)"/></g></g><clipPath id="cbgRb"><polygon points="63.2,70 143.3,53 143.3,139.4 62.8,154.7"/></clipPath><g clip-path="url(#cbgRb)"><g transform="matrix(0.8 -0.17 -0 0.85 63.2 70)"><rect x="-2" y="-2" width="104" height="104" fill="url(#gRb)" filter="url(#fRb)"/></g></g><polyline points="13.1,131.2 12.5,37.3 98.7,21.2 148.6,50.7 148.6,143.4" fill="none" stroke="#222" stroke-width="0.8"/><polyline points="148.6,143.4 62.5,161 13.1,131.2" fill="none" stroke="#111" stroke-width="1.15" stroke-linejoin="round"/><line x1="98.7" y1="21.2" x2="98.7" y2="27.3" stroke="#333" stroke-width="0.6"/><g fill="#111" stroke="#111" stroke-width="0.17" letter-spacing="-0.18"><text x="19.2" y="139.6" font-size="4.9" text-anchor="middle" >50</text><text x="26.3" y="144.7" font-size="4.9" text-anchor="middle" >100</text><text x="33.4" y="149.8" font-size="4.9" text-anchor="middle" >150</text><text x="42" y="155.1" font-size="4.9" text-anchor="middle" >200</text><text x="50.7" y="160.5" font-size="4.9" text-anchor="middle" >250</text><text x="31" y="155" font-size="6" text-anchor="middle" font-style="italic" font-weight="bold">X</text><text x="77.7" y="161.5" font-size="4.9" text-anchor="middle" >250</text><text x="92.2" y="158.1" font-size="4.9" text-anchor="middle" >200</text><text x="105.4" y="155.5" font-size="4.9" text-anchor="middle" >150</text><text x="121.6" y="152.4" font-size="4.9" text-anchor="middle" >100</text><text x="136.9" y="150" font-size="4.9" text-anchor="middle" >50</text><text x="110.9" y="160.8" font-size="6" text-anchor="middle" font-style="italic" font-weight="bold">Y</text><text x="149.9" y="67.5" font-size="4.8" text-anchor="start" >50</text><text x="149.9" y="83.1" font-size="4.8" text-anchor="start" >100</text><text x="149.9" y="98.8" font-size="4.8" text-anchor="start" >150</text><text x="149.9" y="114.3" font-size="4.8" text-anchor="start" >200</text><text x="149.9" y="130.1" font-size="4.8" text-anchor="start" >250</text><text transform="translate(155.9,89.2) rotate(90)" font-size="6" text-anchor="middle" font-style="italic" font-weight="bold">Z</text></g><line x1="148.6" y1="65.7" x2="149.8" y2="65.5" stroke="#222" stroke-width="0.5"/><line x1="148.6" y1="81.3" x2="149.8" y2="81.1" stroke="#222" stroke-width="0.5"/><line x1="148.6" y1="97" x2="149.8" y2="96.8" stroke="#222" stroke-width="0.5"/><line x1="148.6" y1="112.5" x2="149.8" y2="112.3" stroke="#222" stroke-width="0.5"/><line x1="148.6" y1="128.3" x2="149.8" y2="128.1" stroke="#222" stroke-width="0.5"/><line x1="21.5" y1="136.3" x2="20.3" y2="137.3" stroke="#222" stroke-width="0.5"/><line x1="29" y1="140.8" x2="27.8" y2="141.8" stroke="#222" stroke-width="0.5"/><line x1="37" y1="145.5" x2="35.8" y2="146.5" stroke="#222" stroke-width="0.5"/><line x1="45" y1="150.4" x2="43.8" y2="151.4" stroke="#222" stroke-width="0.5"/><line x1="53.5" y1="155.4" x2="52.3" y2="156.4" stroke="#222" stroke-width="0.5"/><g stroke="#2a2a2a" stroke-width="1.05" fill="none"><line x1="176" y1="24.6" x2="176" y2="38"/><line x1="159.5" y1="44.9" x2="172" y2="42.3"/><line x1="178.5" y1="43" x2="184.9" y2="47.4"/></g><polygon points="172,38.3 177.5,37.4 178.8,38.6 178.8,43.8 173.3,44.4 172,43.1" fill="#f4f4f4" stroke="#777" stroke-width="0.5"/><polyline points="172,38.3 173.3,39.4 178.8,38.6" fill="none" stroke="#888" stroke-width="0.4"/><polygon points="172,38.3 173.3,39.4 173.3,44.4 172,43.1" fill="#999"/><g fill="#222" font-style="italic" font-weight="bold"><text x="175.6" y="23.4" font-size="6" text-anchor="middle" >Z</text><text x="155.9" y="48.3" font-size="6" text-anchor="middle" >X</text><text x="188.3" y="49.8" font-size="6" text-anchor="middle" >Y</text></g></g><g transform="translate(0,374.6)"><polygon points="12.5,37.3 98.7,21.2 98.7,110 13.1,131.2" fill="#e6e6e6"/><polygon points="98.7,21.2 148.6,50.7 148.6,143.4 98.7,112" fill="#737373"/><polygon points="13.1,131.2 62.5,161 148.6,143.4 98.7,112" fill="#bababa"/><line x1="27" y1="34.59" x2="27" y2="42.59" stroke="#888" stroke-width="0.5"/><line x1="41.5" y1="31.88" x2="41.5" y2="39.88" stroke="#888" stroke-width="0.5"/><line x1="56" y1="29.18" x2="56" y2="37.18" stroke="#888" stroke-width="0.5"/><line x1="70.5" y1="26.47" x2="70.5" y2="34.47" stroke="#888" stroke-width="0.5"/><line x1="85" y1="23.76" x2="85" y2="31.76" stroke="#888" stroke-width="0.5"/><line x1="12.8" y1="53.5" x2="19" y2="54.5" stroke="#888" stroke-width="0.5"/><line x1="12.8" y1="68.7" x2="19" y2="69.7" stroke="#888" stroke-width="0.5"/><line x1="12.8" y1="83.9" x2="19" y2="84.9" stroke="#888" stroke-width="0.5"/><line x1="12.8" y1="99.1" x2="19" y2="100.1" stroke="#888" stroke-width="0.5"/><line x1="12.8" y1="114.3" x2="19" y2="115.3" stroke="#888" stroke-width="0.5"/><line x1="12.8" y1="129.5" x2="19" y2="130.5" stroke="#888" stroke-width="0.5"/><line x1="107.02" y1="26.12" x2="107.02" y2="34.12" stroke="#3a3a3a" stroke-width="0.5"/><line x1="115.33" y1="31.03" x2="115.33" y2="39.03" stroke="#3a3a3a" stroke-width="0.5"/><line x1="123.65" y1="35.95" x2="123.65" y2="43.95" stroke="#3a3a3a" stroke-width="0.5"/><line x1="131.97" y1="40.87" x2="131.97" y2="48.87" stroke="#3a3a3a" stroke-width="0.5"/><line x1="140.28" y1="45.78" x2="140.28" y2="53.78" stroke="#3a3a3a" stroke-width="0.5"/><line x1="143.2" y1="62.7" x2="148.6" y2="65.6" stroke="#333" stroke-width="0.5"/><line x1="143.2" y1="78.3" x2="148.6" y2="81.2" stroke="#333" stroke-width="0.5"/><line x1="143.2" y1="94" x2="148.6" y2="96.9" stroke="#333" stroke-width="0.5"/><line x1="143.2" y1="109.5" x2="148.6" y2="112.4" stroke="#333" stroke-width="0.5"/><line x1="143.2" y1="125.3" x2="148.6" y2="128.2" stroke="#333" stroke-width="0.5"/><line x1="21.92" y1="136.52" x2="28.92" y2="134.92" stroke="#666" stroke-width="0.5"/><line x1="30.74" y1="141.84" x2="37.74" y2="140.24" stroke="#666" stroke-width="0.5"/><line x1="39.56" y1="147.16" x2="46.56" y2="145.56" stroke="#666" stroke-width="0.5"/><line x1="48.39" y1="152.49" x2="55.39" y2="150.89" stroke="#666" stroke-width="0.5"/><line x1="57.21" y1="157.81" x2="64.21" y2="156.21" stroke="#666" stroke-width="0.5"/><line x1="77.88" y1="157.86" x2="70.47" y2="153.56" stroke="#666" stroke-width="0.5"/><line x1="93.25" y1="154.71" x2="85.85" y2="150.41" stroke="#666" stroke-width="0.5"/><line x1="108.62" y1="151.57" x2="101.22" y2="147.27" stroke="#666" stroke-width="0.5"/><line x1="124" y1="148.43" x2="116.6" y2="144.13" stroke="#666" stroke-width="0.5"/><line x1="139.38" y1="145.29" x2="131.97" y2="140.99" stroke="#666" stroke-width="0.5"/><polygon points="18.8,42.7 98.7,27.3 143.3,53 143.3,139.4 62.8,154.7 18.8,129.7" fill="#00ff8b"/><clipPath id="ccgTc"><polygon points="18.8,42.7 98.7,27.3 143.3,53 63.2,70"/></clipPath><g clip-path="url(#ccgTc)"><g transform="matrix(0.8 -0.15 0.44 0.27 18.8 42.7)"><rect x="-2" y="-2" width="104" height="104" fill="url(#gTc)" filter="url(#fTc)"/></g></g><clipPath id="ccgLc"><polygon points="18.8,42.7 63.2,70 62.8,154.7 18.8,129.7"/></clipPath><g clip-path="url(#ccgLc)"><g transform="matrix(0.44 0.27 0 0.87 18.8 42.7)"><rect x="-2" y="-2" width="104" height="104" fill="url(#gLc)" filter="url(#fLc)"/></g></g><clipPath id="ccgRc"><polygon points="63.2,70 143.3,53 143.3,139.4 62.8,154.7"/></clipPath><g clip-path="url(#ccgRc)"><g transform="matrix(0.8 -0.17 -0 0.85 63.2 70)"><rect x="-2" y="-2" width="104" height="104" fill="url(#gRc)" filter="url(#fRc)"/></g></g><polyline points="13.1,131.2 12.5,37.3 98.7,21.2 148.6,50.7 148.6,143.4" fill="none" stroke="#222" stroke-width="0.8"/><polyline points="148.6,143.4 62.5,161 13.1,131.2" fill="none" stroke="#111" stroke-width="1.15" stroke-linejoin="round"/><line x1="98.7" y1="21.2" x2="98.7" y2="27.3" stroke="#333" stroke-width="0.6"/><g fill="#111" stroke="#111" stroke-width="0.17" letter-spacing="-0.18"><text x="19.2" y="139.6" font-size="4.9" text-anchor="middle" >50</text><text x="26.3" y="144.7" font-size="4.9" text-anchor="middle" >100</text><text x="33.4" y="149.8" font-size="4.9" text-anchor="middle" >150</text><text x="42" y="155.1" font-size="4.9" text-anchor="middle" >200</text><text x="50.7" y="160.5" font-size="4.9" text-anchor="middle" >250</text><text x="31" y="155" font-size="6" text-anchor="middle" font-style="italic" font-weight="bold">X</text><text x="77.7" y="161.5" font-size="4.9" text-anchor="middle" >250</text><text x="92.2" y="158.1" font-size="4.9" text-anchor="middle" >200</text><text x="105.4" y="155.5" font-size="4.9" text-anchor="middle" >150</text><text x="121.6" y="152.4" font-size="4.9" text-anchor="middle" >100</text><text x="136.9" y="150" font-size="4.9" text-anchor="middle" >50</text><text x="110.9" y="160.8" font-size="6" text-anchor="middle" font-style="italic" font-weight="bold">Y</text><text x="149.9" y="67.5" font-size="4.8" text-anchor="start" >50</text><text x="149.9" y="83.1" font-size="4.8" text-anchor="start" >100</text><text x="149.9" y="98.8" font-size="4.8" text-anchor="start" >150</text><text x="149.9" y="114.3" font-size="4.8" text-anchor="start" >200</text><text x="149.9" y="130.1" font-size="4.8" text-anchor="start" >250</text><text transform="translate(155.9,89.2) rotate(90)" font-size="6" text-anchor="middle" font-style="italic" font-weight="bold">Z</text></g><line x1="148.6" y1="65.7" x2="149.8" y2="65.5" stroke="#222" stroke-width="0.5"/><line x1="148.6" y1="81.3" x2="149.8" y2="81.1" stroke="#222" stroke-width="0.5"/><line x1="148.6" y1="97" x2="149.8" y2="96.8" stroke="#222" stroke-width="0.5"/><line x1="148.6" y1="112.5" x2="149.8" y2="112.3" stroke="#222" stroke-width="0.5"/><line x1="148.6" y1="128.3" x2="149.8" y2="128.1" stroke="#222" stroke-width="0.5"/><line x1="21.5" y1="136.3" x2="20.3" y2="137.3" stroke="#222" stroke-width="0.5"/><line x1="29" y1="140.8" x2="27.8" y2="141.8" stroke="#222" stroke-width="0.5"/><line x1="37" y1="145.5" x2="35.8" y2="146.5" stroke="#222" stroke-width="0.5"/><line x1="45" y1="150.4" x2="43.8" y2="151.4" stroke="#222" stroke-width="0.5"/><line x1="53.5" y1="155.4" x2="52.3" y2="156.4" stroke="#222" stroke-width="0.5"/><g stroke="#2a2a2a" stroke-width="1.05" fill="none"><line x1="176" y1="24.6" x2="176" y2="38"/><line x1="159.5" y1="44.9" x2="172" y2="42.3"/><line x1="178.5" y1="43" x2="184.9" y2="47.4"/></g><polygon points="172,38.3 177.5,37.4 178.8,38.6 178.8,43.8 173.3,44.4 172,43.1" fill="#f4f4f4" stroke="#777" stroke-width="0.5"/><polyline points="172,38.3 173.3,39.4 178.8,38.6" fill="none" stroke="#888" stroke-width="0.4"/><polygon points="172,38.3 173.3,39.4 173.3,44.4 172,43.1" fill="#999"/><g fill="#222" font-style="italic" font-weight="bold"><text x="175.6" y="23.4" font-size="6" text-anchor="middle" >Z</text><text x="155.9" y="48.3" font-size="6" text-anchor="middle" >X</text><text x="188.3" y="49.8" font-size="6" text-anchor="middle" >Y</text></g></g><rect x="161.6" y="56.2" width="34.6" height="76" fill="#fff" stroke="#222" stroke-width="0.9"/><rect x="165.2" y="66.5" width="6.6" height="2.89" fill="#ff0000"/><rect x="165.2" y="69.24" width="6.6" height="5.62" fill="#ff5d00"/><rect x="165.2" y="74.71" width="6.6" height="5.62" fill="#ffb900"/><rect x="165.2" y="80.18" width="6.6" height="5.62" fill="#e8ff00"/><rect x="165.2" y="85.65" width="6.6" height="5.62" fill="#8bff00"/><rect x="165.2" y="91.13" width="6.6" height="5.62" fill="#2eff00"/><rect x="165.2" y="96.6" width="6.6" height="5.62" fill="#00ff2e"/><rect x="165.2" y="102.07" width="6.6" height="5.62" fill="#00ff8b"/><rect x="165.2" y="107.55" width="6.6" height="5.62" fill="#00ffe8"/><rect x="165.2" y="113.02" width="6.6" height="5.62" fill="#00b9ff"/><rect x="165.2" y="118.49" width="6.6" height="5.62" fill="#005dff"/><rect x="165.2" y="123.96" width="6.6" height="2.89" fill="#0000ff"/><g fill="#222"><text x="179.1" y="62.8" font-size="6.4" text-anchor="middle" font-weight="bold"><tspan font-style="italic">ky</tspan><tspan font-weight="normal">(m</tspan><tspan font-weight="normal" font-size="4" dy="-2">2</tspan><tspan font-weight="normal" dy="2">)</tspan></text><text x="174" y="70.5" font-size="4.8" text-anchor="start" stroke="#222" stroke-width="0.12">3.4×10<tspan font-size="2.7" dy="-1.7" stroke="none">−13</tspan></text><text x="174" y="81.9" font-size="4.8" text-anchor="start" stroke="#222" stroke-width="0.12">3.0×10<tspan font-size="2.7" dy="-1.7" stroke="none">−13</tspan></text><text x="174" y="93.3" font-size="4.8" text-anchor="start" stroke="#222" stroke-width="0.12">2.6×10<tspan font-size="2.7" dy="-1.7" stroke="none">−13</tspan></text><text x="174" y="105.3" font-size="4.8" text-anchor="start" stroke="#222" stroke-width="0.12">2.2×10<tspan font-size="2.7" dy="-1.7" stroke="none">−13</tspan></text><text x="174" y="116.6" font-size="4.8" text-anchor="start" stroke="#222" stroke-width="0.12">1.8×10<tspan font-size="2.7" dy="-1.7" stroke="none">−13</tspan></text><text x="174" y="127.8" font-size="4.8" text-anchor="start" stroke="#222" stroke-width="0.12">1.4×10<tspan font-size="2.7" dy="-1.7" stroke="none">−13</tspan></text></g><rect x="161.3" y="239.6" width="35.7" height="80.2" fill="#fff" stroke="#222" stroke-width="0.9"/><rect x="164.6" y="251.4" width="6.8" height="3.12" fill="#ff0000"/><rect x="164.6" y="254.37" width="6.8" height="6.1" fill="#ff5d00"/><rect x="164.6" y="260.32" width="6.8" height="6.1" fill="#ffb900"/><rect x="164.6" y="266.26" width="6.8" height="6.1" fill="#e8ff00"/><rect x="164.6" y="272.21" width="6.8" height="6.1" fill="#8bff00"/><rect x="164.6" y="278.15" width="6.8" height="6.1" fill="#2eff00"/><rect x="164.6" y="284.1" width="6.8" height="6.1" fill="#00ff2e"/><rect x="164.6" y="290.05" width="6.8" height="6.1" fill="#00ff8b"/><rect x="164.6" y="295.99" width="6.8" height="6.1" fill="#00ffe8"/><rect x="164.6" y="301.94" width="6.8" height="6.1" fill="#00b9ff"/><rect x="164.6" y="307.88" width="6.8" height="6.1" fill="#005dff"/><rect x="164.6" y="313.83" width="6.8" height="3.12" fill="#0000ff"/><g fill="#222"><text x="178.9" y="246" font-size="6.4" text-anchor="middle" font-weight="bold"><tspan font-style="italic">kx</tspan><tspan font-weight="normal">(m</tspan><tspan font-weight="normal" font-size="4" dy="-2">2</tspan><tspan font-weight="normal" dy="2">)</tspan></text><text x="174.3" y="256.7" font-size="4.8" text-anchor="start" stroke="#222" stroke-width="0.12">3.8×10<tspan font-size="2.7" dy="-1.7" stroke="none">−13</tspan></text><text x="174.3" y="267.8" font-size="4.8" text-anchor="start" stroke="#222" stroke-width="0.12">3.4×10<tspan font-size="2.7" dy="-1.7" stroke="none">−13</tspan></text><text x="174.3" y="279.6" font-size="4.8" text-anchor="start" stroke="#222" stroke-width="0.12">3.0×10<tspan font-size="2.7" dy="-1.7" stroke="none">−13</tspan></text><text x="174.3" y="291" font-size="4.8" text-anchor="start" stroke="#222" stroke-width="0.12">2.6×10<tspan font-size="2.7" dy="-1.7" stroke="none">−13</tspan></text><text x="174.3" y="302.5" font-size="4.8" text-anchor="start" stroke="#222" stroke-width="0.12">2.2×10<tspan font-size="2.7" dy="-1.7" stroke="none">−13</tspan></text><text x="174.3" y="313.6" font-size="4.8" text-anchor="start" stroke="#222" stroke-width="0.12">1.8×10<tspan font-size="2.7" dy="-1.7" stroke="none">−13</tspan></text></g><rect x="160.4" y="427.7" width="35" height="71.1" fill="#fff" stroke="#222" stroke-width="0.9"/><rect x="164.5" y="440.2" width="6.5" height="2.88" fill="#ff0000"/><rect x="164.5" y="442.93" width="6.5" height="5.6" fill="#ff6600"/><rect x="164.5" y="448.38" width="6.5" height="5.6" fill="#ffcc00"/><rect x="164.5" y="453.82" width="6.5" height="5.6" fill="#ccff00"/><rect x="164.5" y="459.27" width="6.5" height="5.6" fill="#66ff00"/><rect x="164.5" y="464.72" width="6.5" height="5.6" fill="#00ff00"/><rect x="164.5" y="470.17" width="6.5" height="5.6" fill="#00ff66"/><rect x="164.5" y="475.62" width="6.5" height="5.6" fill="#00ffcc"/><rect x="164.5" y="481.07" width="6.5" height="5.6" fill="#00ccff"/><rect x="164.5" y="486.52" width="6.5" height="5.6" fill="#0066ff"/><rect x="164.5" y="491.97" width="6.5" height="2.88" fill="#0000ff"/><g fill="#222"><text x="177.5" y="435.7" font-size="6.4" text-anchor="middle" font-weight="bold"><tspan font-style="italic">kz</tspan><tspan font-weight="normal">(m</tspan><tspan font-weight="normal" font-size="4" dy="-2">2</tspan><tspan font-weight="normal" dy="2">)</tspan></text><text x="174.8" y="445.6" font-size="4.8" text-anchor="start" stroke="#222" stroke-width="0.12">3.0×10<tspan font-size="2.7" dy="-1.7" stroke="none">−13</tspan></text><text x="174.8" y="456.9" font-size="4.8" text-anchor="start" stroke="#222" stroke-width="0.12">2.6×10<tspan font-size="2.7" dy="-1.7" stroke="none">−13</tspan></text><text x="174.8" y="468.5" font-size="4.8" text-anchor="start" stroke="#222" stroke-width="0.12">2.2×10<tspan font-size="2.7" dy="-1.7" stroke="none">−13</tspan></text><text x="174.8" y="480.1" font-size="4.8" text-anchor="start" stroke="#222" stroke-width="0.12">1.8×10<tspan font-size="2.7" dy="-1.7" stroke="none">−13</tspan></text><text x="174.8" y="491.4" font-size="4.8" text-anchor="start" stroke="#222" stroke-width="0.12">1.4×10<tspan font-size="2.7" dy="-1.7" stroke="none">−13</tspan></text></g><rect x="212.5" y="38.3" width="109" height="109.6" fill="#fff" stroke="#222" stroke-width="0.9"/><g transform="matrix(1 0 0 0.99 217.1 43.65)"><rect x="0" y="0" width="100" height="100" fill="url(#gSa)" filter="url(#fSa)"/></g><g stroke="#222" stroke-width="0.6"><line x1="230.4" y1="38.3" x2="230.4" y2="42.9"/><line x1="230.4" y1="147.9" x2="230.4" y2="143.3"/><line x1="248.9" y1="38.3" x2="248.9" y2="42.9"/><line x1="248.9" y1="147.9" x2="248.9" y2="143.3"/><line x1="267.5" y1="38.3" x2="267.5" y2="42.9"/><line x1="267.5" y1="147.9" x2="267.5" y2="143.3"/><line x1="286" y1="38.3" x2="286" y2="42.9"/><line x1="286" y1="147.9" x2="286" y2="143.3"/><line x1="304.6" y1="38.3" x2="304.6" y2="42.9"/><line x1="304.6" y1="147.9" x2="304.6" y2="143.3"/><line x1="212.5" y1="56.3" x2="217.1" y2="56.3"/><line x1="321.5" y1="56.3" x2="316.9" y2="56.3"/><line x1="212.5" y1="75.3" x2="217.1" y2="75.3"/><line x1="321.5" y1="75.3" x2="316.9" y2="75.3"/><line x1="212.5" y1="93.9" x2="217.1" y2="93.9"/><line x1="321.5" y1="93.9" x2="316.9" y2="93.9"/><line x1="212.5" y1="112.2" x2="217.1" y2="112.2"/><line x1="321.5" y1="112.2" x2="316.9" y2="112.2"/><line x1="212.5" y1="130.5" x2="217.1" y2="130.5"/><line x1="321.5" y1="130.5" x2="316.9" y2="130.5"/><line x1="215.6" y1="147.9" x2="215.6" y2="146.2" stroke-width="0.35"/><line x1="219.3" y1="147.9" x2="219.3" y2="146.2" stroke-width="0.35"/><line x1="223" y1="147.9" x2="223" y2="146.2" stroke-width="0.35"/><line x1="226.7" y1="147.9" x2="226.7" y2="146.2" stroke-width="0.35"/><line x1="230.4" y1="147.9" x2="230.4" y2="146.2" stroke-width="0.35"/><line x1="234.1" y1="147.9" x2="234.1" y2="146.2" stroke-width="0.35"/><line x1="237.8" y1="147.9" x2="237.8" y2="146.2" stroke-width="0.35"/><line x1="241.5" y1="147.9" x2="241.5" y2="146.2" stroke-width="0.35"/><line x1="245.2" y1="147.9" x2="245.2" y2="146.2" stroke-width="0.35"/><line x1="248.9" y1="147.9" x2="248.9" y2="146.2" stroke-width="0.35"/><line x1="252.6" y1="147.9" x2="252.6" y2="146.2" stroke-width="0.35"/><line x1="256.3" y1="147.9" x2="256.3" y2="146.2" stroke-width="0.35"/><line x1="260" y1="147.9" x2="260" y2="146.2" stroke-width="0.35"/><line x1="263.7" y1="147.9" x2="263.7" y2="146.2" stroke-width="0.35"/><line x1="267.4" y1="147.9" x2="267.4" y2="146.2" stroke-width="0.35"/><line x1="271.1" y1="147.9" x2="271.1" y2="146.2" stroke-width="0.35"/><line x1="274.8" y1="147.9" x2="274.8" y2="146.2" stroke-width="0.35"/><line x1="278.5" y1="147.9" x2="278.5" y2="146.2" stroke-width="0.35"/><line x1="282.2" y1="147.9" x2="282.2" y2="146.2" stroke-width="0.35"/><line x1="285.9" y1="147.9" x2="285.9" y2="146.2" stroke-width="0.35"/><line x1="289.6" y1="147.9" x2="289.6" y2="146.2" stroke-width="0.35"/><line x1="293.3" y1="147.9" x2="293.3" y2="146.2" stroke-width="0.35"/><line x1="297" y1="147.9" x2="297" y2="146.2" stroke-width="0.35"/><line x1="300.7" y1="147.9" x2="300.7" y2="146.2" stroke-width="0.35"/><line x1="304.4" y1="147.9" x2="304.4" y2="146.2" stroke-width="0.35"/><line x1="308.1" y1="147.9" x2="308.1" y2="146.2" stroke-width="0.35"/><line x1="311.8" y1="147.9" x2="311.8" y2="146.2" stroke-width="0.35"/><line x1="315.5" y1="147.9" x2="315.5" y2="146.2" stroke-width="0.35"/><line x1="319.2" y1="147.9" x2="319.2" y2="146.2" stroke-width="0.35"/><line x1="321.5" y1="41.1" x2="319.8" y2="41.1" stroke-width="0.35"/><line x1="321.5" y1="44.9" x2="319.8" y2="44.9" stroke-width="0.35"/><line x1="321.5" y1="48.7" x2="319.8" y2="48.7" stroke-width="0.35"/><line x1="321.5" y1="52.5" x2="319.8" y2="52.5" stroke-width="0.35"/><line x1="321.5" y1="56.3" x2="319.8" y2="56.3" stroke-width="0.35"/><line x1="321.5" y1="60.1" x2="319.8" y2="60.1" stroke-width="0.35"/><line x1="321.5" y1="63.9" x2="319.8" y2="63.9" stroke-width="0.35"/><line x1="321.5" y1="67.7" x2="319.8" y2="67.7" stroke-width="0.35"/><line x1="321.5" y1="71.5" x2="319.8" y2="71.5" stroke-width="0.35"/><line x1="321.5" y1="75.3" x2="319.8" y2="75.3" stroke-width="0.35"/><line x1="321.5" y1="79.1" x2="319.8" y2="79.1" stroke-width="0.35"/><line x1="321.5" y1="82.9" x2="319.8" y2="82.9" stroke-width="0.35"/><line x1="321.5" y1="86.7" x2="319.8" y2="86.7" stroke-width="0.35"/><line x1="321.5" y1="90.5" x2="319.8" y2="90.5" stroke-width="0.35"/><line x1="321.5" y1="94.3" x2="319.8" y2="94.3" stroke-width="0.35"/><line x1="321.5" y1="98.1" x2="319.8" y2="98.1" stroke-width="0.35"/><line x1="321.5" y1="101.9" x2="319.8" y2="101.9" stroke-width="0.35"/><line x1="321.5" y1="105.7" x2="319.8" y2="105.7" stroke-width="0.35"/><line x1="321.5" y1="109.5" x2="319.8" y2="109.5" stroke-width="0.35"/><line x1="321.5" y1="113.3" x2="319.8" y2="113.3" stroke-width="0.35"/><line x1="321.5" y1="117.1" x2="319.8" y2="117.1" stroke-width="0.35"/><line x1="321.5" y1="120.9" x2="319.8" y2="120.9" stroke-width="0.35"/><line x1="321.5" y1="124.7" x2="319.8" y2="124.7" stroke-width="0.35"/><line x1="321.5" y1="128.5" x2="319.8" y2="128.5" stroke-width="0.35"/><line x1="321.5" y1="132.3" x2="319.8" y2="132.3" stroke-width="0.35"/><line x1="321.5" y1="136.1" x2="319.8" y2="136.1" stroke-width="0.35"/><line x1="321.5" y1="139.9" x2="319.8" y2="139.9" stroke-width="0.35"/><line x1="321.5" y1="143.7" x2="319.8" y2="143.7" stroke-width="0.35"/></g><g fill="#111" stroke="#111" stroke-width="0.17" letter-spacing="-0.18"><text x="230.4" y="153.2" font-size="4.9" text-anchor="middle" >250</text><text x="248.9" y="153.2" font-size="4.9" text-anchor="middle" >200</text><text x="267.5" y="153.2" font-size="4.9" text-anchor="middle" >150</text><text x="286" y="153.2" font-size="4.9" text-anchor="middle" >100</text><text x="304.6" y="153.2" font-size="4.9" text-anchor="middle" >50</text><text x="327.2" y="57.9" font-size="4.9" text-anchor="middle" >50</text><text x="327.2" y="76.9" font-size="4.9" text-anchor="middle" >100</text><text x="327.2" y="95.5" font-size="4.9" text-anchor="middle" >150</text><text x="327.2" y="113.8" font-size="4.9" text-anchor="middle" >200</text><text x="327.2" y="132.1" font-size="4.9" text-anchor="middle" >250</text><text x="266.8" y="159.5" font-size="6" text-anchor="middle" font-style="italic" font-weight="bold">Y</text><text transform="translate(332.8,93) rotate(90)" font-size="6" text-anchor="middle" font-style="italic" font-weight="bold">Z</text></g><rect x="214.4" y="227.4" width="108.9" height="110" fill="#fff" stroke="#222" stroke-width="0.9"/><g transform="matrix(0.99 0 0 0.99 219.6 232.8)"><rect x="0" y="0" width="100" height="100" fill="url(#gSb)" filter="url(#fSb)"/></g><g stroke="#222" stroke-width="0.6"><line x1="232.5" y1="227.4" x2="232.5" y2="232"/><line x1="232.5" y1="337.4" x2="232.5" y2="332.8"/><line x1="251.5" y1="227.4" x2="251.5" y2="232"/><line x1="251.5" y1="337.4" x2="251.5" y2="332.8"/><line x1="270.5" y1="227.4" x2="270.5" y2="232"/><line x1="270.5" y1="337.4" x2="270.5" y2="332.8"/><line x1="289.4" y1="227.4" x2="289.4" y2="232"/><line x1="289.4" y1="337.4" x2="289.4" y2="332.8"/><line x1="308.4" y1="227.4" x2="308.4" y2="232"/><line x1="308.4" y1="337.4" x2="308.4" y2="332.8"/><line x1="214.4" y1="245.2" x2="219" y2="245.2"/><line x1="323.3" y1="245.2" x2="318.7" y2="245.2"/><line x1="214.4" y1="263.8" x2="219" y2="263.8"/><line x1="323.3" y1="263.8" x2="318.7" y2="263.8"/><line x1="214.4" y1="282.5" x2="219" y2="282.5"/><line x1="323.3" y1="282.5" x2="318.7" y2="282.5"/><line x1="214.4" y1="300.6" x2="219" y2="300.6"/><line x1="323.3" y1="300.6" x2="318.7" y2="300.6"/><line x1="214.4" y1="318.7" x2="219" y2="318.7"/><line x1="323.3" y1="318.7" x2="318.7" y2="318.7"/><line x1="217.3" y1="337.4" x2="217.3" y2="335.7" stroke-width="0.35"/><line x1="221.1" y1="337.4" x2="221.1" y2="335.7" stroke-width="0.35"/><line x1="224.9" y1="337.4" x2="224.9" y2="335.7" stroke-width="0.35"/><line x1="228.7" y1="337.4" x2="228.7" y2="335.7" stroke-width="0.35"/><line x1="232.5" y1="337.4" x2="232.5" y2="335.7" stroke-width="0.35"/><line x1="236.3" y1="337.4" x2="236.3" y2="335.7" stroke-width="0.35"/><line x1="240.1" y1="337.4" x2="240.1" y2="335.7" stroke-width="0.35"/><line x1="243.9" y1="337.4" x2="243.9" y2="335.7" stroke-width="0.35"/><line x1="247.7" y1="337.4" x2="247.7" y2="335.7" stroke-width="0.35"/><line x1="251.5" y1="337.4" x2="251.5" y2="335.7" stroke-width="0.35"/><line x1="255.3" y1="337.4" x2="255.3" y2="335.7" stroke-width="0.35"/><line x1="259.1" y1="337.4" x2="259.1" y2="335.7" stroke-width="0.35"/><line x1="262.9" y1="337.4" x2="262.9" y2="335.7" stroke-width="0.35"/><line x1="266.7" y1="337.4" x2="266.7" y2="335.7" stroke-width="0.35"/><line x1="270.5" y1="337.4" x2="270.5" y2="335.7" stroke-width="0.35"/><line x1="274.3" y1="337.4" x2="274.3" y2="335.7" stroke-width="0.35"/><line x1="278.1" y1="337.4" x2="278.1" y2="335.7" stroke-width="0.35"/><line x1="281.9" y1="337.4" x2="281.9" y2="335.7" stroke-width="0.35"/><line x1="285.7" y1="337.4" x2="285.7" y2="335.7" stroke-width="0.35"/><line x1="289.5" y1="337.4" x2="289.5" y2="335.7" stroke-width="0.35"/><line x1="293.3" y1="337.4" x2="293.3" y2="335.7" stroke-width="0.35"/><line x1="297.1" y1="337.4" x2="297.1" y2="335.7" stroke-width="0.35"/><line x1="300.9" y1="337.4" x2="300.9" y2="335.7" stroke-width="0.35"/><line x1="304.7" y1="337.4" x2="304.7" y2="335.7" stroke-width="0.35"/><line x1="308.5" y1="337.4" x2="308.5" y2="335.7" stroke-width="0.35"/><line x1="312.3" y1="337.4" x2="312.3" y2="335.7" stroke-width="0.35"/><line x1="316.1" y1="337.4" x2="316.1" y2="335.7" stroke-width="0.35"/><line x1="319.9" y1="337.4" x2="319.9" y2="335.7" stroke-width="0.35"/><line x1="323.3" y1="230.32" x2="321.6" y2="230.32" stroke-width="0.35"/><line x1="323.3" y1="234.04" x2="321.6" y2="234.04" stroke-width="0.35"/><line x1="323.3" y1="237.76" x2="321.6" y2="237.76" stroke-width="0.35"/><line x1="323.3" y1="241.48" x2="321.6" y2="241.48" stroke-width="0.35"/><line x1="323.3" y1="245.2" x2="321.6" y2="245.2" stroke-width="0.35"/><line x1="323.3" y1="248.92" x2="321.6" y2="248.92" stroke-width="0.35"/><line x1="323.3" y1="252.64" x2="321.6" y2="252.64" stroke-width="0.35"/><line x1="323.3" y1="256.36" x2="321.6" y2="256.36" stroke-width="0.35"/><line x1="323.3" y1="260.08" x2="321.6" y2="260.08" stroke-width="0.35"/><line x1="323.3" y1="263.8" x2="321.6" y2="263.8" stroke-width="0.35"/><line x1="323.3" y1="267.52" x2="321.6" y2="267.52" stroke-width="0.35"/><line x1="323.3" y1="271.24" x2="321.6" y2="271.24" stroke-width="0.35"/><line x1="323.3" y1="274.96" x2="321.6" y2="274.96" stroke-width="0.35"/><line x1="323.3" y1="278.68" x2="321.6" y2="278.68" stroke-width="0.35"/><line x1="323.3" y1="282.4" x2="321.6" y2="282.4" stroke-width="0.35"/><line x1="323.3" y1="286.12" x2="321.6" y2="286.12" stroke-width="0.35"/><line x1="323.3" y1="289.84" x2="321.6" y2="289.84" stroke-width="0.35"/><line x1="323.3" y1="293.56" x2="321.6" y2="293.56" stroke-width="0.35"/><line x1="323.3" y1="297.28" x2="321.6" y2="297.28" stroke-width="0.35"/><line x1="323.3" y1="301" x2="321.6" y2="301" stroke-width="0.35"/><line x1="323.3" y1="304.72" x2="321.6" y2="304.72" stroke-width="0.35"/><line x1="323.3" y1="308.44" x2="321.6" y2="308.44" stroke-width="0.35"/><line x1="323.3" y1="312.16" x2="321.6" y2="312.16" stroke-width="0.35"/><line x1="323.3" y1="315.88" x2="321.6" y2="315.88" stroke-width="0.35"/><line x1="323.3" y1="319.6" x2="321.6" y2="319.6" stroke-width="0.35"/><line x1="323.3" y1="323.32" x2="321.6" y2="323.32" stroke-width="0.35"/><line x1="323.3" y1="327.04" x2="321.6" y2="327.04" stroke-width="0.35"/><line x1="323.3" y1="330.76" x2="321.6" y2="330.76" stroke-width="0.35"/><line x1="323.3" y1="334.48" x2="321.6" y2="334.48" stroke-width="0.35"/></g><g fill="#111" stroke="#111" stroke-width="0.17" letter-spacing="-0.18"><text x="232.5" y="341.8" font-size="4.9" text-anchor="middle" >250</text><text x="251.5" y="341.8" font-size="4.9" text-anchor="middle" >200</text><text x="270.5" y="341.8" font-size="4.9" text-anchor="middle" >150</text><text x="289.4" y="341.8" font-size="4.9" text-anchor="middle" >100</text><text x="308.4" y="341.8" font-size="4.9" text-anchor="middle" >50</text><text x="327.2" y="246.8" font-size="4.9" text-anchor="middle" >50</text><text x="327.2" y="265.4" font-size="4.9" text-anchor="middle" >100</text><text x="327.2" y="284.1" font-size="4.9" text-anchor="middle" >150</text><text x="327.2" y="302.2" font-size="4.9" text-anchor="middle" >200</text><text x="327.2" y="320.3" font-size="4.9" text-anchor="middle" >250</text><text x="267" y="348.4" font-size="6" text-anchor="middle" font-style="italic" font-weight="bold">Y</text><text transform="translate(333,282.3) rotate(90)" font-size="6" text-anchor="middle" font-style="italic" font-weight="bold">Z</text></g><rect x="212.1" y="414.7" width="110.7" height="110.4" fill="#fff" stroke="#222" stroke-width="0.9"/><g transform="matrix(1.01 0 0 1 217.1 420.1)"><rect x="0" y="0" width="100" height="100" fill="url(#gSc)" filter="url(#fSc)"/></g><g stroke="#222" stroke-width="0.6"><line x1="230.4" y1="414.7" x2="230.4" y2="419.3"/><line x1="230.4" y1="525.1" x2="230.4" y2="520.5"/><line x1="248.9" y1="414.7" x2="248.9" y2="419.3"/><line x1="248.9" y1="525.1" x2="248.9" y2="520.5"/><line x1="267.5" y1="414.7" x2="267.5" y2="419.3"/><line x1="267.5" y1="525.1" x2="267.5" y2="520.5"/><line x1="286.3" y1="414.7" x2="286.3" y2="419.3"/><line x1="286.3" y1="525.1" x2="286.3" y2="520.5"/><line x1="305" y1="414.7" x2="305" y2="419.3"/><line x1="305" y1="525.1" x2="305" y2="520.5"/><line x1="212.1" y1="432.5" x2="216.7" y2="432.5"/><line x1="322.8" y1="432.5" x2="318.2" y2="432.5"/><line x1="212.1" y1="451.5" x2="216.7" y2="451.5"/><line x1="322.8" y1="451.5" x2="318.2" y2="451.5"/><line x1="212.1" y1="470" x2="216.7" y2="470"/><line x1="322.8" y1="470" x2="318.2" y2="470"/><line x1="212.1" y1="488.3" x2="216.7" y2="488.3"/><line x1="322.8" y1="488.3" x2="318.2" y2="488.3"/><line x1="212.1" y1="506.8" x2="216.7" y2="506.8"/><line x1="322.8" y1="506.8" x2="318.2" y2="506.8"/><line x1="215.6" y1="525.1" x2="215.6" y2="523.4" stroke-width="0.35"/><line x1="219.3" y1="525.1" x2="219.3" y2="523.4" stroke-width="0.35"/><line x1="223" y1="525.1" x2="223" y2="523.4" stroke-width="0.35"/><line x1="226.7" y1="525.1" x2="226.7" y2="523.4" stroke-width="0.35"/><line x1="230.4" y1="525.1" x2="230.4" y2="523.4" stroke-width="0.35"/><line x1="234.1" y1="525.1" x2="234.1" y2="523.4" stroke-width="0.35"/><line x1="237.8" y1="525.1" x2="237.8" y2="523.4" stroke-width="0.35"/><line x1="241.5" y1="525.1" x2="241.5" y2="523.4" stroke-width="0.35"/><line x1="245.2" y1="525.1" x2="245.2" y2="523.4" stroke-width="0.35"/><line x1="248.9" y1="525.1" x2="248.9" y2="523.4" stroke-width="0.35"/><line x1="252.6" y1="525.1" x2="252.6" y2="523.4" stroke-width="0.35"/><line x1="256.3" y1="525.1" x2="256.3" y2="523.4" stroke-width="0.35"/><line x1="260" y1="525.1" x2="260" y2="523.4" stroke-width="0.35"/><line x1="263.7" y1="525.1" x2="263.7" y2="523.4" stroke-width="0.35"/><line x1="267.4" y1="525.1" x2="267.4" y2="523.4" stroke-width="0.35"/><line x1="271.1" y1="525.1" x2="271.1" y2="523.4" stroke-width="0.35"/><line x1="274.8" y1="525.1" x2="274.8" y2="523.4" stroke-width="0.35"/><line x1="278.5" y1="525.1" x2="278.5" y2="523.4" stroke-width="0.35"/><line x1="282.2" y1="525.1" x2="282.2" y2="523.4" stroke-width="0.35"/><line x1="285.9" y1="525.1" x2="285.9" y2="523.4" stroke-width="0.35"/><line x1="289.6" y1="525.1" x2="289.6" y2="523.4" stroke-width="0.35"/><line x1="293.3" y1="525.1" x2="293.3" y2="523.4" stroke-width="0.35"/><line x1="297" y1="525.1" x2="297" y2="523.4" stroke-width="0.35"/><line x1="300.7" y1="525.1" x2="300.7" y2="523.4" stroke-width="0.35"/><line x1="304.4" y1="525.1" x2="304.4" y2="523.4" stroke-width="0.35"/><line x1="308.1" y1="525.1" x2="308.1" y2="523.4" stroke-width="0.35"/><line x1="311.8" y1="525.1" x2="311.8" y2="523.4" stroke-width="0.35"/><line x1="315.5" y1="525.1" x2="315.5" y2="523.4" stroke-width="0.35"/><line x1="319.2" y1="525.1" x2="319.2" y2="523.4" stroke-width="0.35"/><line x1="322.8" y1="417.3" x2="321.1" y2="417.3" stroke-width="0.35"/><line x1="322.8" y1="421.1" x2="321.1" y2="421.1" stroke-width="0.35"/><line x1="322.8" y1="424.9" x2="321.1" y2="424.9" stroke-width="0.35"/><line x1="322.8" y1="428.7" x2="321.1" y2="428.7" stroke-width="0.35"/><line x1="322.8" y1="432.5" x2="321.1" y2="432.5" stroke-width="0.35"/><line x1="322.8" y1="436.3" x2="321.1" y2="436.3" stroke-width="0.35"/><line x1="322.8" y1="440.1" x2="321.1" y2="440.1" stroke-width="0.35"/><line x1="322.8" y1="443.9" x2="321.1" y2="443.9" stroke-width="0.35"/><line x1="322.8" y1="447.7" x2="321.1" y2="447.7" stroke-width="0.35"/><line x1="322.8" y1="451.5" x2="321.1" y2="451.5" stroke-width="0.35"/><line x1="322.8" y1="455.3" x2="321.1" y2="455.3" stroke-width="0.35"/><line x1="322.8" y1="459.1" x2="321.1" y2="459.1" stroke-width="0.35"/><line x1="322.8" y1="462.9" x2="321.1" y2="462.9" stroke-width="0.35"/><line x1="322.8" y1="466.7" x2="321.1" y2="466.7" stroke-width="0.35"/><line x1="322.8" y1="470.5" x2="321.1" y2="470.5" stroke-width="0.35"/><line x1="322.8" y1="474.3" x2="321.1" y2="474.3" stroke-width="0.35"/><line x1="322.8" y1="478.1" x2="321.1" y2="478.1" stroke-width="0.35"/><line x1="322.8" y1="481.9" x2="321.1" y2="481.9" stroke-width="0.35"/><line x1="322.8" y1="485.7" x2="321.1" y2="485.7" stroke-width="0.35"/><line x1="322.8" y1="489.5" x2="321.1" y2="489.5" stroke-width="0.35"/><line x1="322.8" y1="493.3" x2="321.1" y2="493.3" stroke-width="0.35"/><line x1="322.8" y1="497.1" x2="321.1" y2="497.1" stroke-width="0.35"/><line x1="322.8" y1="500.9" x2="321.1" y2="500.9" stroke-width="0.35"/><line x1="322.8" y1="504.7" x2="321.1" y2="504.7" stroke-width="0.35"/><line x1="322.8" y1="508.5" x2="321.1" y2="508.5" stroke-width="0.35"/><line x1="322.8" y1="512.3" x2="321.1" y2="512.3" stroke-width="0.35"/><line x1="322.8" y1="516.1" x2="321.1" y2="516.1" stroke-width="0.35"/><line x1="322.8" y1="519.9" x2="321.1" y2="519.9" stroke-width="0.35"/><line x1="322.8" y1="523.7" x2="321.1" y2="523.7" stroke-width="0.35"/></g><g fill="#111" stroke="#111" stroke-width="0.17" letter-spacing="-0.18"><text x="230.4" y="530.7" font-size="4.9" text-anchor="middle" >250</text><text x="248.9" y="530.7" font-size="4.9" text-anchor="middle" >200</text><text x="267.5" y="530.7" font-size="4.9" text-anchor="middle" >150</text><text x="286.3" y="530.7" font-size="4.9" text-anchor="middle" >100</text><text x="305" y="530.7" font-size="4.9" text-anchor="middle" >50</text><text x="327.2" y="434.1" font-size="4.9" text-anchor="middle" >50</text><text x="327.2" y="453.1" font-size="4.9" text-anchor="middle" >100</text><text x="327.2" y="471.6" font-size="4.9" text-anchor="middle" >150</text><text x="327.2" y="489.9" font-size="4.9" text-anchor="middle" >200</text><text x="327.2" y="508.4" font-size="4.9" text-anchor="middle" >250</text><text x="266.8" y="536.6" font-size="6" text-anchor="middle" font-style="italic" font-weight="bold">Y</text><text transform="translate(333,470.8) rotate(90)" font-size="6" text-anchor="middle" font-style="italic" font-weight="bold">Z</text></g><rect x="341.3" y="43.4" width="6" height="6" fill="none" stroke="#888" stroke-width="0.5"/><polyline points="341.3,28.4 341.3,49.4 362.1,49.4" fill="none" stroke="#222" stroke-width="0.9"/><g fill="#222" font-style="italic" font-weight="bold"><text x="341" y="26.8" font-size="6" text-anchor="middle" >Z</text><text x="366.3" y="51" font-size="6" text-anchor="middle" >Y</text></g><rect x="340.5" y="228.4" width="6" height="6" fill="none" stroke="#888" stroke-width="0.5"/><polyline points="340.5,213.7 340.5,234.4 361.3,234.4" fill="none" stroke="#222" stroke-width="0.9"/><g fill="#222" font-style="italic" font-weight="bold"><text x="340.2" y="212.1" font-size="6" text-anchor="middle" >Z</text><text x="365.5" y="236" font-size="6" text-anchor="middle" >Y</text></g><rect x="340.5" y="417.2" width="6" height="6" fill="none" stroke="#888" stroke-width="0.5"/><polyline points="340.5,402.4 340.5,423.2 361.7,423.2" fill="none" stroke="#222" stroke-width="0.9"/><g fill="#222" font-style="italic" font-weight="bold"><text x="340.2" y="400.8" font-size="6" text-anchor="middle" >Z</text><text x="365.9" y="424.8" font-size="6" text-anchor="middle" >Y</text></g><rect x="343" y="64.4" width="34.6" height="78.2" fill="#fff" stroke="#222" stroke-width="0.9"/><rect x="345.9" y="74.1" width="6.8" height="3.14" fill="#ff0000"/><rect x="345.9" y="77.09" width="6.8" height="6.12" fill="#ff5d00"/><rect x="345.9" y="83.06" width="6.8" height="6.12" fill="#ffb900"/><rect x="345.9" y="89.03" width="6.8" height="6.12" fill="#e8ff00"/><rect x="345.9" y="95" width="6.8" height="6.12" fill="#8bff00"/><rect x="345.9" y="100.98" width="6.8" height="6.12" fill="#2eff00"/><rect x="345.9" y="106.95" width="6.8" height="6.12" fill="#00ff2e"/><rect x="345.9" y="112.92" width="6.8" height="6.12" fill="#00ff8b"/><rect x="345.9" y="118.9" width="6.8" height="6.12" fill="#00ffe8"/><rect x="345.9" y="124.87" width="6.8" height="6.12" fill="#00b9ff"/><rect x="345.9" y="130.84" width="6.8" height="6.12" fill="#005dff"/><rect x="345.9" y="136.81" width="6.8" height="3.14" fill="#0000ff"/><g fill="#222"><text x="360.5" y="70.4" font-size="6.4" text-anchor="middle" font-weight="bold"><tspan font-style="italic">ky</tspan><tspan font-weight="normal">(m</tspan><tspan font-weight="normal" font-size="4" dy="-2">2</tspan><tspan font-weight="normal" dy="2">)</tspan></text><text x="355.2" y="78.4" font-size="4.8" text-anchor="start" stroke="#222" stroke-width="0.12">3.4×10<tspan font-size="2.7" dy="-1.7" stroke="none">−13</tspan></text><text x="355.2" y="90.6" font-size="4.8" text-anchor="start" stroke="#222" stroke-width="0.12">3.0×10<tspan font-size="2.7" dy="-1.7" stroke="none">−13</tspan></text><text x="355.2" y="102.3" font-size="4.8" text-anchor="start" stroke="#222" stroke-width="0.12">2.6×10<tspan font-size="2.7" dy="-1.7" stroke="none">−13</tspan></text><text x="355.2" y="113.8" font-size="4.8" text-anchor="start" stroke="#222" stroke-width="0.12">2.2×10<tspan font-size="2.7" dy="-1.7" stroke="none">−13</tspan></text><text x="355.2" y="125.3" font-size="4.8" text-anchor="start" stroke="#222" stroke-width="0.12">1.8×10<tspan font-size="2.7" dy="-1.7" stroke="none">−13</tspan></text><text x="355.2" y="136.6" font-size="4.8" text-anchor="start" stroke="#222" stroke-width="0.12">1.4×10<tspan font-size="2.7" dy="-1.7" stroke="none">−13</tspan></text></g><rect x="340.9" y="243.9" width="35" height="79.6" fill="#fff" stroke="#222" stroke-width="0.9"/><rect x="344.1" y="256" width="6.9" height="3.12" fill="#ff0000"/><rect x="344.1" y="258.97" width="6.9" height="6.1" fill="#ff5d00"/><rect x="344.1" y="264.92" width="6.9" height="6.1" fill="#ffb900"/><rect x="344.1" y="270.86" width="6.9" height="6.1" fill="#e8ff00"/><rect x="344.1" y="276.81" width="6.9" height="6.1" fill="#8bff00"/><rect x="344.1" y="282.75" width="6.9" height="6.1" fill="#2eff00"/><rect x="344.1" y="288.7" width="6.9" height="6.1" fill="#00ff2e"/><rect x="344.1" y="294.65" width="6.9" height="6.1" fill="#00ff8b"/><rect x="344.1" y="300.59" width="6.9" height="6.1" fill="#00ffe8"/><rect x="344.1" y="306.54" width="6.9" height="6.1" fill="#00b9ff"/><rect x="344.1" y="312.48" width="6.9" height="6.1" fill="#005dff"/><rect x="344.1" y="318.43" width="6.9" height="3.12" fill="#0000ff"/><g fill="#222"><text x="357.7" y="250.6" font-size="6.4" text-anchor="middle" font-weight="bold"><tspan font-style="italic">kx</tspan><tspan font-weight="normal">(m</tspan><tspan font-weight="normal" font-size="4" dy="-2">2</tspan><tspan font-weight="normal" dy="2">)</tspan></text><text x="353.5" y="260.4" font-size="4.8" text-anchor="start" stroke="#222" stroke-width="0.12">3.8×10<tspan font-size="2.7" dy="-1.7" stroke="none">−13</tspan></text><text x="353.5" y="272.3" font-size="4.8" text-anchor="start" stroke="#222" stroke-width="0.12">3.4×10<tspan font-size="2.7" dy="-1.7" stroke="none">−13</tspan></text><text x="353.5" y="284" font-size="4.8" text-anchor="start" stroke="#222" stroke-width="0.12">3.0×10<tspan font-size="2.7" dy="-1.7" stroke="none">−13</tspan></text><text x="353.5" y="295.5" font-size="4.8" text-anchor="start" stroke="#222" stroke-width="0.12">2.6×10<tspan font-size="2.7" dy="-1.7" stroke="none">−13</tspan></text><text x="353.5" y="307.1" font-size="4.8" text-anchor="start" stroke="#222" stroke-width="0.12">2.2×10<tspan font-size="2.7" dy="-1.7" stroke="none">−13</tspan></text><text x="353.5" y="318.7" font-size="4.8" text-anchor="start" stroke="#222" stroke-width="0.12">1.8×10<tspan font-size="2.7" dy="-1.7" stroke="none">−13</tspan></text></g><rect x="339.1" y="435.6" width="35.2" height="71.6" fill="#fff" stroke="#222" stroke-width="0.9"/><rect x="343.2" y="448.3" width="6.9" height="2.9" fill="#ff0000"/><rect x="343.2" y="451.05" width="6.9" height="5.65" fill="#ff6600"/><rect x="343.2" y="456.55" width="6.9" height="5.65" fill="#ffcc00"/><rect x="343.2" y="462.05" width="6.9" height="5.65" fill="#ccff00"/><rect x="343.2" y="467.55" width="6.9" height="5.65" fill="#66ff00"/><rect x="343.2" y="473.05" width="6.9" height="5.65" fill="#00ff00"/><rect x="343.2" y="478.55" width="6.9" height="5.65" fill="#00ff66"/><rect x="343.2" y="484.05" width="6.9" height="5.65" fill="#00ffcc"/><rect x="343.2" y="489.55" width="6.9" height="5.65" fill="#00ccff"/><rect x="343.2" y="495.05" width="6.9" height="5.65" fill="#0066ff"/><rect x="343.2" y="500.55" width="6.9" height="2.9" fill="#0000ff"/><g fill="#222"><text x="355.8" y="443.8" font-size="6.4" text-anchor="middle" font-weight="bold"><tspan font-style="italic">kz</tspan><tspan font-weight="normal">(m</tspan><tspan font-weight="normal" font-size="4" dy="-2">2</tspan><tspan font-weight="normal" dy="2">)</tspan></text><text x="353.3" y="453.8" font-size="4.8" text-anchor="start" stroke="#222" stroke-width="0.12">3.0×10<tspan font-size="2.7" dy="-1.7" stroke="none">−13</tspan></text><text x="353.3" y="465" font-size="4.8" text-anchor="start" stroke="#222" stroke-width="0.12">2.6×10<tspan font-size="2.7" dy="-1.7" stroke="none">−13</tspan></text><text x="353.3" y="476.5" font-size="4.8" text-anchor="start" stroke="#222" stroke-width="0.12">2.2×10<tspan font-size="2.7" dy="-1.7" stroke="none">−13</tspan></text><text x="353.3" y="488.4" font-size="4.8" text-anchor="start" stroke="#222" stroke-width="0.12">1.8×10<tspan font-size="2.7" dy="-1.7" stroke="none">−13</tspan></text><text x="353.3" y="499.6" font-size="4.8" text-anchor="start" stroke="#222" stroke-width="0.12">1.4×10<tspan font-size="2.7" dy="-1.7" stroke="none">−13</tspan></text></g><rect x="310.6" y="358.2" width="1" height="1" fill="#ff3050"/></svg></body></html>
